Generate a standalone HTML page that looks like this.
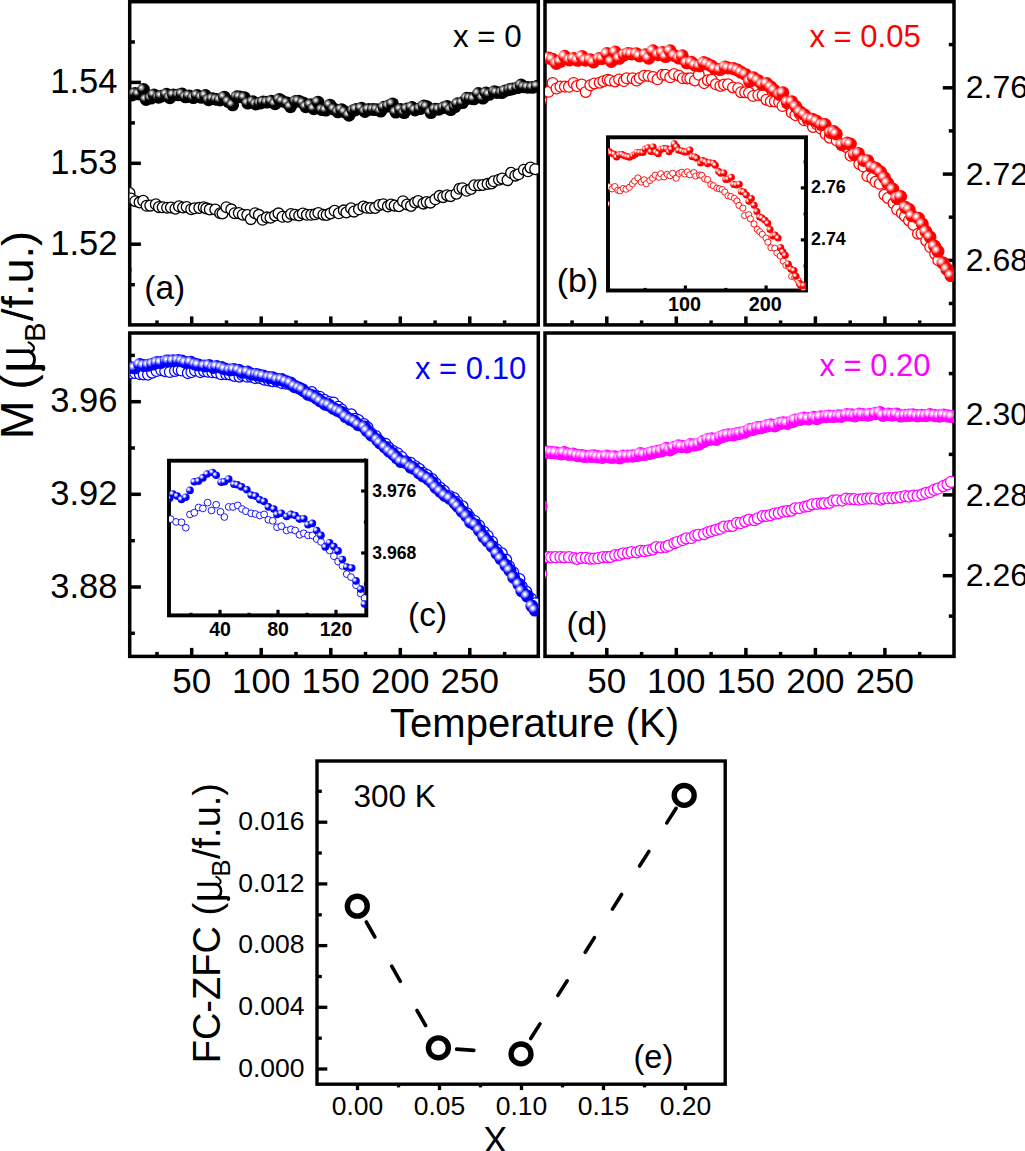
<!DOCTYPE html><html><head><meta charset="utf-8"><style>html,body{margin:0;padding:0;background:#fff;overflow:hidden}svg{display:block;font-family:"Liberation Sans",sans-serif}</style></head><body><svg width="1025" height="1151" viewBox="0 0 1025 1151" font-family="Liberation Sans, sans-serif"><defs><radialGradient id="gk" cx="0.31" cy="0.35" r="0.34" fx="0.31" fy="0.35"><stop offset="0" stop-color="#ffffff"/><stop offset="0.15" stop-color="#e8e8e8"/><stop offset="0.5" stop-color="#808080"/><stop offset="0.85" stop-color="#151515"/><stop offset="1" stop-color="#000000"/></radialGradient><radialGradient id="gr" cx="0.31" cy="0.35" r="0.36" fx="0.31" fy="0.35"><stop offset="0" stop-color="#ffffff"/><stop offset="0.18" stop-color="#ffffff"/><stop offset="0.55" stop-color="#ff9090"/><stop offset="1" stop-color="#ff0000"/></radialGradient><radialGradient id="gb" cx="0.31" cy="0.35" r="0.36" fx="0.31" fy="0.35"><stop offset="0" stop-color="#ffffff"/><stop offset="0.18" stop-color="#ffffff"/><stop offset="0.55" stop-color="#9090ff"/><stop offset="1" stop-color="#0000ff"/></radialGradient><radialGradient id="gm" cx="0.31" cy="0.35" r="0.36" fx="0.31" fy="0.35"><stop offset="0" stop-color="#ffffff"/><stop offset="0.18" stop-color="#ffffff"/><stop offset="0.55" stop-color="#ff90ff"/><stop offset="1" stop-color="#ff00ff"/></radialGradient><clipPath id="ca"><rect x="129.7" y="1.7" width="408.6" height="323.2"/></clipPath><clipPath id="cb"><rect x="545" y="1.7" width="409" height="323.2"/></clipPath><clipPath id="cc"><rect x="129.7" y="333" width="408.6" height="323.4"/></clipPath><clipPath id="cd"><rect x="545" y="333" width="409" height="323.4"/></clipPath><clipPath id="cib"><rect x="608" y="137.3" width="198" height="153.2"/></clipPath><clipPath id="cic"><rect x="169" y="460.7" width="197.3" height="154.7"/></clipPath></defs><rect width="1025" height="1151" fill="#fff"/><rect x="129.7" y="1.7" width="408.6" height="323.2" fill="none" stroke="#000" stroke-width="3.5"/>
<rect x="545" y="1.7" width="409" height="323.2" fill="none" stroke="#000" stroke-width="3.5"/>
<rect x="129.7" y="333" width="408.6" height="323.4" fill="none" stroke="#000" stroke-width="3.5"/>
<rect x="545" y="333" width="409" height="323.4" fill="none" stroke="#000" stroke-width="3.5"/>
<line x1="157" y1="324.9" x2="157" y2="320.4" stroke="#000" stroke-width="3.5" stroke-linecap="butt"/>
<line x1="191.7" y1="324.9" x2="191.7" y2="316.4" stroke="#000" stroke-width="3.5" stroke-linecap="butt"/>
<line x1="226.5" y1="324.9" x2="226.5" y2="320.4" stroke="#000" stroke-width="3.5" stroke-linecap="butt"/>
<line x1="261.2" y1="324.9" x2="261.2" y2="316.4" stroke="#000" stroke-width="3.5" stroke-linecap="butt"/>
<line x1="296" y1="324.9" x2="296" y2="320.4" stroke="#000" stroke-width="3.5" stroke-linecap="butt"/>
<line x1="330.8" y1="324.9" x2="330.8" y2="316.4" stroke="#000" stroke-width="3.5" stroke-linecap="butt"/>
<line x1="365.5" y1="324.9" x2="365.5" y2="320.4" stroke="#000" stroke-width="3.5" stroke-linecap="butt"/>
<line x1="400.3" y1="324.9" x2="400.3" y2="316.4" stroke="#000" stroke-width="3.5" stroke-linecap="butt"/>
<line x1="435.1" y1="324.9" x2="435.1" y2="320.4" stroke="#000" stroke-width="3.5" stroke-linecap="butt"/>
<line x1="469.8" y1="324.9" x2="469.8" y2="316.4" stroke="#000" stroke-width="3.5" stroke-linecap="butt"/>
<line x1="504.6" y1="324.9" x2="504.6" y2="320.4" stroke="#000" stroke-width="3.5" stroke-linecap="butt"/>
<line x1="157" y1="656.4" x2="157" y2="651.9" stroke="#000" stroke-width="3.5" stroke-linecap="butt"/>
<line x1="191.7" y1="656.4" x2="191.7" y2="647.9" stroke="#000" stroke-width="3.5" stroke-linecap="butt"/>
<line x1="226.5" y1="656.4" x2="226.5" y2="651.9" stroke="#000" stroke-width="3.5" stroke-linecap="butt"/>
<line x1="261.2" y1="656.4" x2="261.2" y2="647.9" stroke="#000" stroke-width="3.5" stroke-linecap="butt"/>
<line x1="296" y1="656.4" x2="296" y2="651.9" stroke="#000" stroke-width="3.5" stroke-linecap="butt"/>
<line x1="330.8" y1="656.4" x2="330.8" y2="647.9" stroke="#000" stroke-width="3.5" stroke-linecap="butt"/>
<line x1="365.5" y1="656.4" x2="365.5" y2="651.9" stroke="#000" stroke-width="3.5" stroke-linecap="butt"/>
<line x1="400.3" y1="656.4" x2="400.3" y2="647.9" stroke="#000" stroke-width="3.5" stroke-linecap="butt"/>
<line x1="435.1" y1="656.4" x2="435.1" y2="651.9" stroke="#000" stroke-width="3.5" stroke-linecap="butt"/>
<line x1="469.8" y1="656.4" x2="469.8" y2="647.9" stroke="#000" stroke-width="3.5" stroke-linecap="butt"/>
<line x1="504.6" y1="656.4" x2="504.6" y2="651.9" stroke="#000" stroke-width="3.5" stroke-linecap="butt"/>
<line x1="572.1" y1="324.9" x2="572.1" y2="320.4" stroke="#000" stroke-width="3.5" stroke-linecap="butt"/>
<line x1="606.8" y1="324.9" x2="606.8" y2="316.4" stroke="#000" stroke-width="3.5" stroke-linecap="butt"/>
<line x1="641.6" y1="324.9" x2="641.6" y2="320.4" stroke="#000" stroke-width="3.5" stroke-linecap="butt"/>
<line x1="676.3" y1="324.9" x2="676.3" y2="316.4" stroke="#000" stroke-width="3.5" stroke-linecap="butt"/>
<line x1="711.1" y1="324.9" x2="711.1" y2="320.4" stroke="#000" stroke-width="3.5" stroke-linecap="butt"/>
<line x1="745.9" y1="324.9" x2="745.9" y2="316.4" stroke="#000" stroke-width="3.5" stroke-linecap="butt"/>
<line x1="780.6" y1="324.9" x2="780.6" y2="320.4" stroke="#000" stroke-width="3.5" stroke-linecap="butt"/>
<line x1="815.4" y1="324.9" x2="815.4" y2="316.4" stroke="#000" stroke-width="3.5" stroke-linecap="butt"/>
<line x1="850.2" y1="324.9" x2="850.2" y2="320.4" stroke="#000" stroke-width="3.5" stroke-linecap="butt"/>
<line x1="884.9" y1="324.9" x2="884.9" y2="316.4" stroke="#000" stroke-width="3.5" stroke-linecap="butt"/>
<line x1="919.7" y1="324.9" x2="919.7" y2="320.4" stroke="#000" stroke-width="3.5" stroke-linecap="butt"/>
<line x1="572.1" y1="656.4" x2="572.1" y2="651.9" stroke="#000" stroke-width="3.5" stroke-linecap="butt"/>
<line x1="606.8" y1="656.4" x2="606.8" y2="647.9" stroke="#000" stroke-width="3.5" stroke-linecap="butt"/>
<line x1="641.6" y1="656.4" x2="641.6" y2="651.9" stroke="#000" stroke-width="3.5" stroke-linecap="butt"/>
<line x1="676.3" y1="656.4" x2="676.3" y2="647.9" stroke="#000" stroke-width="3.5" stroke-linecap="butt"/>
<line x1="711.1" y1="656.4" x2="711.1" y2="651.9" stroke="#000" stroke-width="3.5" stroke-linecap="butt"/>
<line x1="745.9" y1="656.4" x2="745.9" y2="647.9" stroke="#000" stroke-width="3.5" stroke-linecap="butt"/>
<line x1="780.6" y1="656.4" x2="780.6" y2="651.9" stroke="#000" stroke-width="3.5" stroke-linecap="butt"/>
<line x1="815.4" y1="656.4" x2="815.4" y2="647.9" stroke="#000" stroke-width="3.5" stroke-linecap="butt"/>
<line x1="850.2" y1="656.4" x2="850.2" y2="651.9" stroke="#000" stroke-width="3.5" stroke-linecap="butt"/>
<line x1="884.9" y1="656.4" x2="884.9" y2="647.9" stroke="#000" stroke-width="3.5" stroke-linecap="butt"/>
<line x1="919.7" y1="656.4" x2="919.7" y2="651.9" stroke="#000" stroke-width="3.5" stroke-linecap="butt"/>
<line x1="129.7" y1="42" x2="134.9" y2="42" stroke="#000" stroke-width="3.5" stroke-linecap="butt"/>
<line x1="129.7" y1="82.4" x2="140.9" y2="82.4" stroke="#000" stroke-width="3.5" stroke-linecap="butt"/>
<line x1="129.7" y1="122.9" x2="134.9" y2="122.9" stroke="#000" stroke-width="3.5" stroke-linecap="butt"/>
<line x1="129.7" y1="163.3" x2="140.9" y2="163.3" stroke="#000" stroke-width="3.5" stroke-linecap="butt"/>
<line x1="129.7" y1="203.8" x2="134.9" y2="203.8" stroke="#000" stroke-width="3.5" stroke-linecap="butt"/>
<line x1="129.7" y1="244.2" x2="140.9" y2="244.2" stroke="#000" stroke-width="3.5" stroke-linecap="butt"/>
<line x1="129.7" y1="284.7" x2="134.9" y2="284.7" stroke="#000" stroke-width="3.5" stroke-linecap="butt"/>
<line x1="954" y1="44.6" x2="948.8" y2="44.6" stroke="#000" stroke-width="3.5" stroke-linecap="butt"/>
<line x1="954" y1="87.8" x2="942.8" y2="87.8" stroke="#000" stroke-width="3.5" stroke-linecap="butt"/>
<line x1="954" y1="130.9" x2="948.8" y2="130.9" stroke="#000" stroke-width="3.5" stroke-linecap="butt"/>
<line x1="954" y1="174.1" x2="942.8" y2="174.1" stroke="#000" stroke-width="3.5" stroke-linecap="butt"/>
<line x1="954" y1="217.2" x2="948.8" y2="217.2" stroke="#000" stroke-width="3.5" stroke-linecap="butt"/>
<line x1="954" y1="260.4" x2="942.8" y2="260.4" stroke="#000" stroke-width="3.5" stroke-linecap="butt"/>
<line x1="954" y1="303.5" x2="948.8" y2="303.5" stroke="#000" stroke-width="3.5" stroke-linecap="butt"/>
<line x1="129.7" y1="355.4" x2="134.9" y2="355.4" stroke="#000" stroke-width="3.5" stroke-linecap="butt"/>
<line x1="129.7" y1="401.7" x2="140.9" y2="401.7" stroke="#000" stroke-width="3.5" stroke-linecap="butt"/>
<line x1="129.7" y1="448" x2="134.9" y2="448" stroke="#000" stroke-width="3.5" stroke-linecap="butt"/>
<line x1="129.7" y1="494.3" x2="140.9" y2="494.3" stroke="#000" stroke-width="3.5" stroke-linecap="butt"/>
<line x1="129.7" y1="540.7" x2="134.9" y2="540.7" stroke="#000" stroke-width="3.5" stroke-linecap="butt"/>
<line x1="129.7" y1="587" x2="140.9" y2="587" stroke="#000" stroke-width="3.5" stroke-linecap="butt"/>
<line x1="129.7" y1="633.3" x2="134.9" y2="633.3" stroke="#000" stroke-width="3.5" stroke-linecap="butt"/>
<line x1="954" y1="373.6" x2="948.8" y2="373.6" stroke="#000" stroke-width="3.5" stroke-linecap="butt"/>
<line x1="954" y1="414" x2="942.8" y2="414" stroke="#000" stroke-width="3.5" stroke-linecap="butt"/>
<line x1="954" y1="454.4" x2="948.8" y2="454.4" stroke="#000" stroke-width="3.5" stroke-linecap="butt"/>
<line x1="954" y1="494.9" x2="942.8" y2="494.9" stroke="#000" stroke-width="3.5" stroke-linecap="butt"/>
<line x1="954" y1="535.3" x2="948.8" y2="535.3" stroke="#000" stroke-width="3.5" stroke-linecap="butt"/>
<line x1="954" y1="575.7" x2="942.8" y2="575.7" stroke="#000" stroke-width="3.5" stroke-linecap="butt"/>
<line x1="954" y1="616.1" x2="948.8" y2="616.1" stroke="#000" stroke-width="3.5" stroke-linecap="butt"/>
<g clip-path="url(#ca)" fill="#fff" stroke="#000" stroke-width="1.3"><circle cx="129.5" cy="193" r="5.4"/><circle cx="130.9" cy="198.5" r="5.4"/><circle cx="135.3" cy="201.2" r="5.4"/><circle cx="139.6" cy="202.4" r="5.4"/><circle cx="143.2" cy="200.8" r="5.4"/><circle cx="146.6" cy="205.8" r="5.4"/><circle cx="150.3" cy="205.6" r="5.4"/><circle cx="155.8" cy="204.3" r="5.4"/><circle cx="158.9" cy="207.1" r="5.4"/><circle cx="162.7" cy="207.3" r="5.4"/><circle cx="167.1" cy="207.7" r="5.4"/><circle cx="170.9" cy="207.5" r="5.4"/><circle cx="175.4" cy="208.7" r="5.4"/><circle cx="179" cy="206.3" r="5.4"/><circle cx="183" cy="207.5" r="5.4"/><circle cx="186.7" cy="207" r="5.4"/><circle cx="191.2" cy="209.2" r="5.4"/><circle cx="194.5" cy="208.3" r="5.4"/><circle cx="199.3" cy="207.9" r="5.4"/><circle cx="203.7" cy="207.2" r="5.4"/><circle cx="206.3" cy="208.4" r="5.4"/><circle cx="209.8" cy="209.4" r="5.4"/><circle cx="215.3" cy="209.5" r="5.4"/><circle cx="220.2" cy="213.3" r="5.4"/><circle cx="222.5" cy="213.5" r="5.4"/><circle cx="226.4" cy="207.2" r="5.4"/><circle cx="231.3" cy="209.4" r="5.4"/><circle cx="234.6" cy="213.2" r="5.4"/><circle cx="238.8" cy="213.1" r="5.4"/><circle cx="242.8" cy="214.7" r="5.4"/><circle cx="247.3" cy="215.1" r="5.4"/><circle cx="250.8" cy="219.1" r="5.4"/><circle cx="255.1" cy="213.2" r="5.4"/><circle cx="258.9" cy="214.9" r="5.4"/><circle cx="262.6" cy="219.8" r="5.4"/><circle cx="266.8" cy="217.4" r="5.4"/><circle cx="270.5" cy="217.7" r="5.4"/><circle cx="275" cy="215.5" r="5.4"/><circle cx="278.5" cy="213.4" r="5.4"/><circle cx="282.5" cy="216.8" r="5.4"/><circle cx="287.7" cy="216.7" r="5.4"/><circle cx="291" cy="214" r="5.4"/><circle cx="295" cy="214.7" r="5.4"/><circle cx="299.2" cy="215.5" r="5.4"/><circle cx="302.8" cy="213.5" r="5.4"/><circle cx="306.9" cy="214.8" r="5.4"/><circle cx="311.2" cy="214.8" r="5.4"/><circle cx="315.1" cy="214.3" r="5.4"/><circle cx="318.4" cy="213" r="5.4"/><circle cx="323.4" cy="214.7" r="5.4"/><circle cx="326.7" cy="214.9" r="5.4"/><circle cx="330.5" cy="213.4" r="5.4"/><circle cx="334.6" cy="210.8" r="5.4"/><circle cx="338.8" cy="213.3" r="5.4"/><circle cx="343.8" cy="210.4" r="5.4"/><circle cx="346.4" cy="212.5" r="5.4"/><circle cx="351.1" cy="208.3" r="5.4"/><circle cx="354" cy="211.6" r="5.4"/><circle cx="359" cy="209.3" r="5.4"/><circle cx="363.4" cy="206.5" r="5.4"/><circle cx="366.9" cy="207.8" r="5.4"/><circle cx="370.7" cy="208" r="5.4"/><circle cx="375.1" cy="207.9" r="5.4"/><circle cx="379.3" cy="205.1" r="5.4"/><circle cx="383.3" cy="204.3" r="5.4"/><circle cx="387.9" cy="206.4" r="5.4"/><circle cx="391.1" cy="204.6" r="5.4"/><circle cx="394.7" cy="205.6" r="5.4"/><circle cx="398.9" cy="206.2" r="5.4"/><circle cx="403" cy="201.2" r="5.4"/><circle cx="407.1" cy="204.5" r="5.4"/><circle cx="411" cy="205.9" r="5.4"/><circle cx="415.1" cy="202.5" r="5.4"/><circle cx="418.2" cy="201.1" r="5.4"/><circle cx="423.4" cy="203.6" r="5.4"/><circle cx="426.7" cy="202.1" r="5.4"/><circle cx="430.4" cy="202.6" r="5.4"/><circle cx="435.3" cy="199.3" r="5.4"/><circle cx="439.6" cy="195.9" r="5.4"/><circle cx="443.2" cy="197.1" r="5.4"/><circle cx="447.1" cy="195.2" r="5.4"/><circle cx="450.6" cy="196.1" r="5.4"/><circle cx="456.4" cy="193.7" r="5.4"/><circle cx="459.4" cy="188.8" r="5.4"/><circle cx="462.5" cy="188.2" r="5.4"/><circle cx="466.6" cy="190.8" r="5.4"/><circle cx="471" cy="189" r="5.4"/><circle cx="474.3" cy="185.3" r="5.4"/><circle cx="479.1" cy="185.3" r="5.4"/><circle cx="482.8" cy="185" r="5.4"/><circle cx="487.6" cy="183.9" r="5.4"/><circle cx="491.5" cy="183.5" r="5.4"/><circle cx="493.7" cy="181.3" r="5.4"/><circle cx="499" cy="179.7" r="5.4"/><circle cx="502.2" cy="178.5" r="5.4"/><circle cx="507.5" cy="180.1" r="5.4"/><circle cx="511.1" cy="172.8" r="5.4"/><circle cx="515.3" cy="175.6" r="5.4"/><circle cx="518.5" cy="174.3" r="5.4"/><circle cx="523.9" cy="169.7" r="5.4"/><circle cx="528" cy="171.3" r="5.4"/><circle cx="530.5" cy="167.6" r="5.4"/><circle cx="535.2" cy="169.2" r="5.4"/></g>
<g clip-path="url(#ca)"><circle cx="125.2" cy="269.5" r="6.4" fill="url(#gk)"/><circle cx="132.2" cy="95" r="6.4" fill="url(#gk)"/><circle cx="135" cy="93.5" r="6.4" fill="url(#gk)"/><circle cx="138.6" cy="94" r="6.4" fill="url(#gk)"/><circle cx="143.6" cy="89.5" r="6.4" fill="url(#gk)"/><circle cx="146.1" cy="99.5" r="6.4" fill="url(#gk)"/><circle cx="151" cy="98.1" r="6.4" fill="url(#gk)"/><circle cx="154" cy="94.8" r="6.4" fill="url(#gk)"/><circle cx="158.5" cy="97.3" r="6.4" fill="url(#gk)"/><circle cx="161.3" cy="96.1" r="6.4" fill="url(#gk)"/><circle cx="166.5" cy="94.2" r="6.4" fill="url(#gk)"/><circle cx="169.9" cy="97.8" r="6.4" fill="url(#gk)"/><circle cx="173.4" cy="94.9" r="6.4" fill="url(#gk)"/><circle cx="178.6" cy="94.9" r="6.4" fill="url(#gk)"/><circle cx="182.1" cy="94" r="6.4" fill="url(#gk)"/><circle cx="185.6" cy="96.9" r="6.4" fill="url(#gk)"/><circle cx="189.2" cy="95.8" r="6.4" fill="url(#gk)"/><circle cx="193.4" cy="97.6" r="6.4" fill="url(#gk)"/><circle cx="197.2" cy="95.3" r="6.4" fill="url(#gk)"/><circle cx="201.5" cy="97.4" r="6.4" fill="url(#gk)"/><circle cx="205.5" cy="95.5" r="6.4" fill="url(#gk)"/><circle cx="208.7" cy="99.8" r="6.4" fill="url(#gk)"/><circle cx="212.6" cy="98.7" r="6.4" fill="url(#gk)"/><circle cx="216.6" cy="99.4" r="6.4" fill="url(#gk)"/><circle cx="220.1" cy="100" r="6.4" fill="url(#gk)"/><circle cx="224.3" cy="97.1" r="6.4" fill="url(#gk)"/><circle cx="228.5" cy="101.6" r="6.4" fill="url(#gk)"/><circle cx="232.7" cy="104.9" r="6.4" fill="url(#gk)"/><circle cx="236.9" cy="96.7" r="6.4" fill="url(#gk)"/><circle cx="239.8" cy="96.8" r="6.4" fill="url(#gk)"/><circle cx="244.4" cy="97.6" r="6.4" fill="url(#gk)"/><circle cx="247.8" cy="103.2" r="6.4" fill="url(#gk)"/><circle cx="252.9" cy="101.7" r="6.4" fill="url(#gk)"/><circle cx="255.8" cy="104" r="6.4" fill="url(#gk)"/><circle cx="259.9" cy="103.2" r="6.4" fill="url(#gk)"/><circle cx="263.2" cy="102" r="6.4" fill="url(#gk)"/><circle cx="267.1" cy="102.2" r="6.4" fill="url(#gk)"/><circle cx="271.5" cy="101.2" r="6.4" fill="url(#gk)"/><circle cx="275.1" cy="103.8" r="6.4" fill="url(#gk)"/><circle cx="279.4" cy="99.4" r="6.4" fill="url(#gk)"/><circle cx="282.4" cy="101.2" r="6.4" fill="url(#gk)"/><circle cx="287.3" cy="102.9" r="6.4" fill="url(#gk)"/><circle cx="290.5" cy="106.8" r="6.4" fill="url(#gk)"/><circle cx="295.6" cy="101.3" r="6.4" fill="url(#gk)"/><circle cx="298.6" cy="101.1" r="6.4" fill="url(#gk)"/><circle cx="303.1" cy="102.8" r="6.4" fill="url(#gk)"/><circle cx="305.8" cy="106.8" r="6.4" fill="url(#gk)"/><circle cx="310.6" cy="104.6" r="6.4" fill="url(#gk)"/><circle cx="313.9" cy="108.8" r="6.4" fill="url(#gk)"/><circle cx="318" cy="102.1" r="6.4" fill="url(#gk)"/><circle cx="322.1" cy="109.7" r="6.4" fill="url(#gk)"/><circle cx="325.9" cy="110.2" r="6.4" fill="url(#gk)"/><circle cx="330" cy="105.1" r="6.4" fill="url(#gk)"/><circle cx="334.1" cy="109.1" r="6.4" fill="url(#gk)"/><circle cx="338" cy="111.9" r="6.4" fill="url(#gk)"/><circle cx="341.6" cy="109.6" r="6.4" fill="url(#gk)"/><circle cx="344.9" cy="112" r="6.4" fill="url(#gk)"/><circle cx="349" cy="115.3" r="6.4" fill="url(#gk)"/><circle cx="353.2" cy="110.6" r="6.4" fill="url(#gk)"/><circle cx="356.2" cy="109.4" r="6.4" fill="url(#gk)"/><circle cx="361.5" cy="108.2" r="6.4" fill="url(#gk)"/><circle cx="364.9" cy="111.5" r="6.4" fill="url(#gk)"/><circle cx="368.8" cy="109.5" r="6.4" fill="url(#gk)"/><circle cx="373.2" cy="109.5" r="6.4" fill="url(#gk)"/><circle cx="377" cy="109.6" r="6.4" fill="url(#gk)"/><circle cx="380.7" cy="111.2" r="6.4" fill="url(#gk)"/><circle cx="384" cy="107.2" r="6.4" fill="url(#gk)"/><circle cx="388.5" cy="106" r="6.4" fill="url(#gk)"/><circle cx="392.5" cy="103.8" r="6.4" fill="url(#gk)"/><circle cx="395.8" cy="112.1" r="6.4" fill="url(#gk)"/><circle cx="400.6" cy="109.4" r="6.4" fill="url(#gk)"/><circle cx="404.2" cy="112.6" r="6.4" fill="url(#gk)"/><circle cx="407" cy="109" r="6.4" fill="url(#gk)"/><circle cx="411.9" cy="107.3" r="6.4" fill="url(#gk)"/><circle cx="415.1" cy="110" r="6.4" fill="url(#gk)"/><circle cx="420.1" cy="108.6" r="6.4" fill="url(#gk)"/><circle cx="423.9" cy="105.8" r="6.4" fill="url(#gk)"/><circle cx="426.9" cy="106.6" r="6.4" fill="url(#gk)"/><circle cx="430.9" cy="112.6" r="6.4" fill="url(#gk)"/><circle cx="435.2" cy="109.2" r="6.4" fill="url(#gk)"/><circle cx="439" cy="109.3" r="6.4" fill="url(#gk)"/><circle cx="443.7" cy="107.6" r="6.4" fill="url(#gk)"/><circle cx="447.2" cy="106.5" r="6.4" fill="url(#gk)"/><circle cx="450.7" cy="109.7" r="6.4" fill="url(#gk)"/><circle cx="455" cy="106.8" r="6.4" fill="url(#gk)"/><circle cx="457.6" cy="103.6" r="6.4" fill="url(#gk)"/><circle cx="462.6" cy="102.7" r="6.4" fill="url(#gk)"/><circle cx="466.8" cy="98.2" r="6.4" fill="url(#gk)"/><circle cx="470.2" cy="98.3" r="6.4" fill="url(#gk)"/><circle cx="473.9" cy="98.9" r="6.4" fill="url(#gk)"/><circle cx="478.4" cy="93.5" r="6.4" fill="url(#gk)"/><circle cx="482.9" cy="98.2" r="6.4" fill="url(#gk)"/><circle cx="486" cy="92.9" r="6.4" fill="url(#gk)"/><circle cx="489.3" cy="94.4" r="6.4" fill="url(#gk)"/><circle cx="494.4" cy="91.6" r="6.4" fill="url(#gk)"/><circle cx="496.7" cy="92.5" r="6.4" fill="url(#gk)"/><circle cx="501.7" cy="92.6" r="6.4" fill="url(#gk)"/><circle cx="505.1" cy="90.8" r="6.4" fill="url(#gk)"/><circle cx="509.7" cy="89.5" r="6.4" fill="url(#gk)"/><circle cx="512.8" cy="88.8" r="6.4" fill="url(#gk)"/><circle cx="517.7" cy="87.7" r="6.4" fill="url(#gk)"/><circle cx="521.1" cy="85" r="6.4" fill="url(#gk)"/><circle cx="524.1" cy="86.9" r="6.4" fill="url(#gk)"/><circle cx="527.9" cy="87.3" r="6.4" fill="url(#gk)"/><circle cx="532.6" cy="87.4" r="6.4" fill="url(#gk)"/><circle cx="537.2" cy="86.2" r="6.4" fill="url(#gk)"/></g>
<g clip-path="url(#cb)" fill="#fff" stroke="#ff0000" stroke-width="1.25"><circle cx="541" cy="100" r="5.4"/><circle cx="548.6" cy="91.8" r="5.4"/><circle cx="552.6" cy="83" r="5.4"/><circle cx="556.5" cy="88.5" r="5.4"/><circle cx="560.4" cy="86.6" r="5.4"/><circle cx="564.9" cy="86.6" r="5.4"/><circle cx="568.9" cy="86.8" r="5.4"/><circle cx="573.6" cy="83" r="5.4"/><circle cx="577" cy="86.1" r="5.4"/><circle cx="581.7" cy="84.5" r="5.4"/><circle cx="585.7" cy="91.9" r="5.4"/><circle cx="590.3" cy="85.3" r="5.4"/><circle cx="594.3" cy="83.4" r="5.4"/><circle cx="599.7" cy="82.7" r="5.4"/><circle cx="603.4" cy="81.2" r="5.4"/><circle cx="607.6" cy="79.8" r="5.4"/><circle cx="610" cy="80.4" r="5.4"/><circle cx="615" cy="81.4" r="5.4"/><circle cx="619.1" cy="79.4" r="5.4"/><circle cx="623.9" cy="81.1" r="5.4"/><circle cx="626.7" cy="78.3" r="5.4"/><circle cx="632.6" cy="78.2" r="5.4"/><circle cx="636.7" cy="80.5" r="5.4"/><circle cx="639.7" cy="78.1" r="5.4"/><circle cx="644.1" cy="75.7" r="5.4"/><circle cx="648.4" cy="75.9" r="5.4"/><circle cx="653" cy="77" r="5.4"/><circle cx="657.5" cy="79.3" r="5.4"/><circle cx="662.4" cy="74.8" r="5.4"/><circle cx="665.5" cy="74.8" r="5.4"/><circle cx="670.2" cy="77.3" r="5.4"/><circle cx="674.1" cy="74.1" r="5.4"/><circle cx="679.1" cy="75.7" r="5.4"/><circle cx="682.8" cy="78.3" r="5.4"/><circle cx="687.3" cy="78.4" r="5.4"/><circle cx="690.3" cy="78.3" r="5.4"/><circle cx="694.9" cy="80.4" r="5.4"/><circle cx="698.8" cy="74.8" r="5.4"/><circle cx="704.2" cy="83.1" r="5.4"/><circle cx="707.9" cy="80.2" r="5.4"/><circle cx="711.6" cy="79.8" r="5.4"/><circle cx="715.8" cy="84.3" r="5.4"/><circle cx="720.4" cy="85.9" r="5.4"/><circle cx="724" cy="84.6" r="5.4"/><circle cx="728.1" cy="84.3" r="5.4"/><circle cx="733" cy="87.4" r="5.4"/><circle cx="738.2" cy="88.2" r="5.4"/><circle cx="741.1" cy="92.2" r="5.4"/><circle cx="745.1" cy="92.3" r="5.4"/><circle cx="749" cy="92.8" r="5.4"/><circle cx="753.1" cy="96" r="5.4"/><circle cx="758.3" cy="95" r="5.4"/><circle cx="762.6" cy="95.2" r="5.4"/><circle cx="766.4" cy="99.7" r="5.4"/><circle cx="770.8" cy="101.3" r="5.4"/><circle cx="774.9" cy="101.4" r="5.4"/><circle cx="779.1" cy="102" r="5.4"/><circle cx="782.4" cy="106" r="5.4"/><circle cx="787.2" cy="103.4" r="5.4"/><circle cx="791.7" cy="112.5" r="5.4"/><circle cx="795.4" cy="115.1" r="5.4"/><circle cx="799.8" cy="114" r="5.4"/><circle cx="803.8" cy="120.1" r="5.4"/><circle cx="808.2" cy="121" r="5.4"/><circle cx="813" cy="126.9" r="5.4"/><circle cx="816.6" cy="124" r="5.4"/><circle cx="820.9" cy="128.5" r="5.4"/><circle cx="825.6" cy="134.1" r="5.4"/><circle cx="829.7" cy="137.7" r="5.4"/><circle cx="834.5" cy="134.3" r="5.4"/><circle cx="836.7" cy="140.5" r="5.4"/><circle cx="842.4" cy="145.1" r="5.4"/><circle cx="846" cy="146.9" r="5.4"/><circle cx="850.5" cy="155.6" r="5.4"/><circle cx="855" cy="155.6" r="5.4"/><circle cx="859.3" cy="163.9" r="5.4"/><circle cx="863.5" cy="166.5" r="5.4"/><circle cx="867.3" cy="176.1" r="5.4"/><circle cx="872.2" cy="178" r="5.4"/><circle cx="875.5" cy="181.8" r="5.4"/><circle cx="879.7" cy="183.8" r="5.4"/><circle cx="884.4" cy="194.8" r="5.4"/><circle cx="887.9" cy="197.9" r="5.4"/><circle cx="893.5" cy="203.3" r="5.4"/><circle cx="897.1" cy="209.6" r="5.4"/><circle cx="901.9" cy="213.3" r="5.4"/><circle cx="905" cy="216.2" r="5.4"/><circle cx="909" cy="220.4" r="5.4"/><circle cx="913.5" cy="224.9" r="5.4"/><circle cx="918" cy="233.7" r="5.4"/><circle cx="921.5" cy="233.5" r="5.4"/><circle cx="926.2" cy="240.7" r="5.4"/><circle cx="930.2" cy="247.1" r="5.4"/><circle cx="935.2" cy="253.9" r="5.4"/><circle cx="938.3" cy="260.3" r="5.4"/><circle cx="943.3" cy="262.5" r="5.4"/><circle cx="946.7" cy="268" r="5.4"/><circle cx="950.7" cy="275.9" r="5.4"/></g>
<g clip-path="url(#cb)"><circle cx="548.6" cy="58.1" r="6.5" fill="url(#gr)"/><circle cx="552.5" cy="59.2" r="6.5" fill="url(#gr)"/><circle cx="556.4" cy="63.4" r="6.5" fill="url(#gr)"/><circle cx="560.6" cy="61.3" r="6.5" fill="url(#gr)"/><circle cx="564.7" cy="56.3" r="6.5" fill="url(#gr)"/><circle cx="569.5" cy="60" r="6.5" fill="url(#gr)"/><circle cx="573.6" cy="58.6" r="6.5" fill="url(#gr)"/><circle cx="577.6" cy="60.3" r="6.5" fill="url(#gr)"/><circle cx="582" cy="56.4" r="6.5" fill="url(#gr)"/><circle cx="585.5" cy="60.2" r="6.5" fill="url(#gr)"/><circle cx="590.3" cy="59.7" r="6.5" fill="url(#gr)"/><circle cx="593.5" cy="62" r="6.5" fill="url(#gr)"/><circle cx="599.1" cy="58.6" r="6.5" fill="url(#gr)"/><circle cx="602.6" cy="58.5" r="6.5" fill="url(#gr)"/><circle cx="606.9" cy="53.6" r="6.5" fill="url(#gr)"/><circle cx="611.3" cy="61.5" r="6.5" fill="url(#gr)"/><circle cx="615.2" cy="52" r="6.5" fill="url(#gr)"/><circle cx="619.3" cy="58.3" r="6.5" fill="url(#gr)"/><circle cx="624.2" cy="54.9" r="6.5" fill="url(#gr)"/><circle cx="627.9" cy="53.5" r="6.5" fill="url(#gr)"/><circle cx="631.5" cy="53.9" r="6.5" fill="url(#gr)"/><circle cx="636.4" cy="53.7" r="6.5" fill="url(#gr)"/><circle cx="639.5" cy="56" r="6.5" fill="url(#gr)"/><circle cx="645.4" cy="54.8" r="6.5" fill="url(#gr)"/><circle cx="648.7" cy="58.2" r="6.5" fill="url(#gr)"/><circle cx="653" cy="50.8" r="6.5" fill="url(#gr)"/><circle cx="658.3" cy="54.7" r="6.5" fill="url(#gr)"/><circle cx="662.5" cy="52.6" r="6.5" fill="url(#gr)"/><circle cx="665.7" cy="56.6" r="6.5" fill="url(#gr)"/><circle cx="670.1" cy="50.8" r="6.5" fill="url(#gr)"/><circle cx="674.5" cy="55.7" r="6.5" fill="url(#gr)"/><circle cx="679" cy="58.1" r="6.5" fill="url(#gr)"/><circle cx="682.3" cy="55.8" r="6.5" fill="url(#gr)"/><circle cx="686.7" cy="62.8" r="6.5" fill="url(#gr)"/><circle cx="691.4" cy="62.3" r="6.5" fill="url(#gr)"/><circle cx="695.1" cy="65.2" r="6.5" fill="url(#gr)"/><circle cx="699.6" cy="66" r="6.5" fill="url(#gr)"/><circle cx="703.7" cy="62.6" r="6.5" fill="url(#gr)"/><circle cx="707" cy="63.8" r="6.5" fill="url(#gr)"/><circle cx="711.4" cy="65.9" r="6.5" fill="url(#gr)"/><circle cx="714.7" cy="68.6" r="6.5" fill="url(#gr)"/><circle cx="720.1" cy="69.6" r="6.5" fill="url(#gr)"/><circle cx="725.1" cy="66.9" r="6.5" fill="url(#gr)"/><circle cx="728" cy="68" r="6.5" fill="url(#gr)"/><circle cx="733.4" cy="68.6" r="6.5" fill="url(#gr)"/><circle cx="737.5" cy="70.1" r="6.5" fill="url(#gr)"/><circle cx="741.2" cy="72.3" r="6.5" fill="url(#gr)"/><circle cx="745.4" cy="74.4" r="6.5" fill="url(#gr)"/><circle cx="749.6" cy="81.3" r="6.5" fill="url(#gr)"/><circle cx="753.4" cy="77.8" r="6.5" fill="url(#gr)"/><circle cx="757.9" cy="80.4" r="6.5" fill="url(#gr)"/><circle cx="762.2" cy="84.3" r="6.5" fill="url(#gr)"/><circle cx="766.7" cy="83.5" r="6.5" fill="url(#gr)"/><circle cx="771" cy="87.1" r="6.5" fill="url(#gr)"/><circle cx="774.4" cy="90.4" r="6.5" fill="url(#gr)"/><circle cx="779.4" cy="94.5" r="6.5" fill="url(#gr)"/><circle cx="782.8" cy="92.7" r="6.5" fill="url(#gr)"/><circle cx="787.3" cy="101.9" r="6.5" fill="url(#gr)"/><circle cx="791.8" cy="101.8" r="6.5" fill="url(#gr)"/><circle cx="795.8" cy="106.6" r="6.5" fill="url(#gr)"/><circle cx="799.9" cy="111.8" r="6.5" fill="url(#gr)"/><circle cx="804.3" cy="114.7" r="6.5" fill="url(#gr)"/><circle cx="808.1" cy="118.5" r="6.5" fill="url(#gr)"/><circle cx="812.3" cy="119.2" r="6.5" fill="url(#gr)"/><circle cx="816.7" cy="121.3" r="6.5" fill="url(#gr)"/><circle cx="821.5" cy="124.6" r="6.5" fill="url(#gr)"/><circle cx="825.1" cy="124.6" r="6.5" fill="url(#gr)"/><circle cx="830.4" cy="132.5" r="6.5" fill="url(#gr)"/><circle cx="833.7" cy="131.5" r="6.5" fill="url(#gr)"/><circle cx="836.3" cy="133.9" r="6.5" fill="url(#gr)"/><circle cx="841.8" cy="144.6" r="6.5" fill="url(#gr)"/><circle cx="847" cy="143.1" r="6.5" fill="url(#gr)"/><circle cx="850.4" cy="144.1" r="6.5" fill="url(#gr)"/><circle cx="854.4" cy="154.4" r="6.5" fill="url(#gr)"/><circle cx="858.4" cy="153.4" r="6.5" fill="url(#gr)"/><circle cx="863.7" cy="160.5" r="6.5" fill="url(#gr)"/><circle cx="867.7" cy="160.7" r="6.5" fill="url(#gr)"/><circle cx="871.7" cy="166.6" r="6.5" fill="url(#gr)"/><circle cx="875.8" cy="168.2" r="6.5" fill="url(#gr)"/><circle cx="880.5" cy="172" r="6.5" fill="url(#gr)"/><circle cx="884.4" cy="177.7" r="6.5" fill="url(#gr)"/><circle cx="887.6" cy="183.1" r="6.5" fill="url(#gr)"/><circle cx="892.8" cy="189.1" r="6.5" fill="url(#gr)"/><circle cx="896.7" cy="197.9" r="6.5" fill="url(#gr)"/><circle cx="900.7" cy="196.5" r="6.5" fill="url(#gr)"/><circle cx="905.4" cy="207.3" r="6.5" fill="url(#gr)"/><circle cx="909.2" cy="209.5" r="6.5" fill="url(#gr)"/><circle cx="911.9" cy="215.8" r="6.5" fill="url(#gr)"/><circle cx="918.4" cy="218.2" r="6.5" fill="url(#gr)"/><circle cx="922.3" cy="223.9" r="6.5" fill="url(#gr)"/><circle cx="925.9" cy="231.5" r="6.5" fill="url(#gr)"/><circle cx="930" cy="236.9" r="6.5" fill="url(#gr)"/><circle cx="934.5" cy="246.1" r="6.5" fill="url(#gr)"/><circle cx="938" cy="251.3" r="6.5" fill="url(#gr)"/><circle cx="943" cy="263.2" r="6.5" fill="url(#gr)"/><circle cx="946.9" cy="269.3" r="6.5" fill="url(#gr)"/><circle cx="951" cy="275.5" r="6.5" fill="url(#gr)"/></g>
<g clip-path="url(#cc)" fill="#fff" stroke="#0000ff" stroke-width="1.25"><circle cx="130.9" cy="373.3" r="5.4"/><circle cx="135.1" cy="373" r="5.4"/><circle cx="139.7" cy="374.1" r="5.4"/><circle cx="143.7" cy="374.5" r="5.4"/><circle cx="148" cy="374.6" r="5.4"/><circle cx="152.1" cy="372.7" r="5.4"/><circle cx="156.5" cy="371" r="5.4"/><circle cx="161.2" cy="370.1" r="5.4"/><circle cx="165.2" cy="371.2" r="5.4"/><circle cx="169.8" cy="372" r="5.4"/><circle cx="175" cy="371" r="5.4"/><circle cx="178.5" cy="369.9" r="5.4"/><circle cx="181.8" cy="370.5" r="5.4"/><circle cx="187.8" cy="373.1" r="5.4"/><circle cx="191.4" cy="372.1" r="5.4"/><circle cx="195" cy="370.5" r="5.4"/><circle cx="200.3" cy="372.1" r="5.4"/><circle cx="204.1" cy="371.2" r="5.4"/><circle cx="208.1" cy="371.8" r="5.4"/><circle cx="212.4" cy="372.3" r="5.4"/><circle cx="216.5" cy="372.6" r="5.4"/><circle cx="221.3" cy="374.3" r="5.4"/><circle cx="226.2" cy="374.3" r="5.4"/><circle cx="229.7" cy="374.4" r="5.4"/><circle cx="234.4" cy="375.9" r="5.4"/><circle cx="239.5" cy="376.7" r="5.4"/><circle cx="242.2" cy="375" r="5.4"/><circle cx="247.2" cy="376.8" r="5.4"/><circle cx="251.2" cy="376.7" r="5.4"/><circle cx="255.2" cy="378.1" r="5.4"/><circle cx="259.5" cy="377.9" r="5.4"/><circle cx="264.3" cy="379.7" r="5.4"/><circle cx="268.8" cy="380.5" r="5.4"/><circle cx="272.6" cy="381.2" r="5.4"/><circle cx="277.2" cy="381.5" r="5.4"/><circle cx="281.9" cy="383.1" r="5.4"/><circle cx="286" cy="383.6" r="5.4"/><circle cx="290.5" cy="384.6" r="5.4"/><circle cx="294.6" cy="387.3" r="5.4"/><circle cx="299" cy="387.7" r="5.4"/><circle cx="303.9" cy="391.4" r="5.4"/><circle cx="307.6" cy="392.7" r="5.4"/><circle cx="311.7" cy="392.1" r="5.4"/><circle cx="316.3" cy="396" r="5.4"/><circle cx="319.7" cy="396.7" r="5.4"/><circle cx="324.3" cy="399.8" r="5.4"/><circle cx="329.2" cy="401.9" r="5.4"/><circle cx="333.4" cy="402.5" r="5.4"/><circle cx="338.2" cy="406.7" r="5.4"/><circle cx="341.7" cy="409.5" r="5.4"/><circle cx="345.2" cy="413.4" r="5.4"/><circle cx="351.3" cy="414.3" r="5.4"/><circle cx="355.2" cy="418.8" r="5.4"/><circle cx="358.4" cy="420.1" r="5.4"/><circle cx="363.9" cy="424.1" r="5.4"/><circle cx="367.5" cy="427.3" r="5.4"/><circle cx="370.9" cy="433" r="5.4"/><circle cx="375.9" cy="436" r="5.4"/><circle cx="380.1" cy="441.5" r="5.4"/><circle cx="385.5" cy="443.7" r="5.4"/><circle cx="388.6" cy="447.6" r="5.4"/><circle cx="393.2" cy="451.1" r="5.4"/><circle cx="397.5" cy="453.2" r="5.4"/><circle cx="401.7" cy="456.9" r="5.4"/><circle cx="405.7" cy="461.3" r="5.4"/><circle cx="410.6" cy="462.7" r="5.4"/><circle cx="415.4" cy="466.3" r="5.4"/><circle cx="419.4" cy="469.1" r="5.4"/><circle cx="422.9" cy="472.7" r="5.4"/><circle cx="427.1" cy="475.1" r="5.4"/><circle cx="432.1" cy="479.1" r="5.4"/><circle cx="435.9" cy="483.6" r="5.4"/><circle cx="440.3" cy="487.7" r="5.4"/><circle cx="444" cy="490.8" r="5.4"/><circle cx="450.2" cy="496.2" r="5.4"/><circle cx="454" cy="497.9" r="5.4"/><circle cx="457.3" cy="501.9" r="5.4"/><circle cx="462.6" cy="506.3" r="5.4"/><circle cx="467.1" cy="513.2" r="5.4"/><circle cx="469.5" cy="516.8" r="5.4"/><circle cx="474.7" cy="520.9" r="5.4"/><circle cx="479.1" cy="525.4" r="5.4"/><circle cx="483.9" cy="531.8" r="5.4"/><circle cx="487.8" cy="536" r="5.4"/><circle cx="492.1" cy="541.7" r="5.4"/><circle cx="496.5" cy="549.2" r="5.4"/><circle cx="501.8" cy="553.3" r="5.4"/><circle cx="506.2" cy="559.8" r="5.4"/><circle cx="509.1" cy="566.2" r="5.4"/><circle cx="513.2" cy="572.2" r="5.4"/><circle cx="519.4" cy="579" r="5.4"/><circle cx="521.8" cy="586.6" r="5.4"/><circle cx="526.3" cy="591.6" r="5.4"/><circle cx="530.9" cy="598.4" r="5.4"/><circle cx="535.4" cy="603.2" r="5.4"/></g>
<g clip-path="url(#cc)"><circle cx="130.2" cy="367.6" r="6.5" fill="url(#gb)"/><circle cx="134.8" cy="367.9" r="6.5" fill="url(#gb)"/><circle cx="139.7" cy="364.6" r="6.5" fill="url(#gb)"/><circle cx="143.7" cy="365.6" r="6.5" fill="url(#gb)"/><circle cx="148.4" cy="365.2" r="6.5" fill="url(#gb)"/><circle cx="152.8" cy="364.1" r="6.5" fill="url(#gb)"/><circle cx="157" cy="362.6" r="6.5" fill="url(#gb)"/><circle cx="161" cy="362.5" r="6.5" fill="url(#gb)"/><circle cx="166.3" cy="361" r="6.5" fill="url(#gb)"/><circle cx="168.6" cy="361" r="6.5" fill="url(#gb)"/><circle cx="173.1" cy="360.8" r="6.5" fill="url(#gb)"/><circle cx="178" cy="360.4" r="6.5" fill="url(#gb)"/><circle cx="182" cy="361" r="6.5" fill="url(#gb)"/><circle cx="185.6" cy="362.4" r="6.5" fill="url(#gb)"/><circle cx="190.8" cy="362.3" r="6.5" fill="url(#gb)"/><circle cx="195.1" cy="364.2" r="6.5" fill="url(#gb)"/><circle cx="198.5" cy="364.9" r="6.5" fill="url(#gb)"/><circle cx="204.5" cy="366" r="6.5" fill="url(#gb)"/><circle cx="209.1" cy="365.5" r="6.5" fill="url(#gb)"/><circle cx="213.3" cy="367.4" r="6.5" fill="url(#gb)"/><circle cx="216.7" cy="366.6" r="6.5" fill="url(#gb)"/><circle cx="221.4" cy="367.5" r="6.5" fill="url(#gb)"/><circle cx="225" cy="369" r="6.5" fill="url(#gb)"/><circle cx="230" cy="370" r="6.5" fill="url(#gb)"/><circle cx="233.9" cy="369.5" r="6.5" fill="url(#gb)"/><circle cx="238.7" cy="370.2" r="6.5" fill="url(#gb)"/><circle cx="242.6" cy="372.3" r="6.5" fill="url(#gb)"/><circle cx="247.6" cy="372.1" r="6.5" fill="url(#gb)"/><circle cx="251.8" cy="374.2" r="6.5" fill="url(#gb)"/><circle cx="256.3" cy="374.4" r="6.5" fill="url(#gb)"/><circle cx="259.2" cy="375.2" r="6.5" fill="url(#gb)"/><circle cx="263.4" cy="376" r="6.5" fill="url(#gb)"/><circle cx="268.8" cy="377.4" r="6.5" fill="url(#gb)"/><circle cx="272.6" cy="377.7" r="6.5" fill="url(#gb)"/><circle cx="277.4" cy="379.6" r="6.5" fill="url(#gb)"/><circle cx="281.7" cy="379.6" r="6.5" fill="url(#gb)"/><circle cx="285.9" cy="381.4" r="6.5" fill="url(#gb)"/><circle cx="290.6" cy="383" r="6.5" fill="url(#gb)"/><circle cx="294.7" cy="386.2" r="6.5" fill="url(#gb)"/><circle cx="298.9" cy="388" r="6.5" fill="url(#gb)"/><circle cx="302.5" cy="389.7" r="6.5" fill="url(#gb)"/><circle cx="308.2" cy="394.3" r="6.5" fill="url(#gb)"/><circle cx="311.7" cy="395.4" r="6.5" fill="url(#gb)"/><circle cx="316.5" cy="398.2" r="6.5" fill="url(#gb)"/><circle cx="320.4" cy="401" r="6.5" fill="url(#gb)"/><circle cx="325.2" cy="404.2" r="6.5" fill="url(#gb)"/><circle cx="328.9" cy="405.1" r="6.5" fill="url(#gb)"/><circle cx="333.2" cy="408.2" r="6.5" fill="url(#gb)"/><circle cx="337.5" cy="410.5" r="6.5" fill="url(#gb)"/><circle cx="341.3" cy="412.2" r="6.5" fill="url(#gb)"/><circle cx="345.7" cy="416.6" r="6.5" fill="url(#gb)"/><circle cx="350.2" cy="419.5" r="6.5" fill="url(#gb)"/><circle cx="354.5" cy="421.5" r="6.5" fill="url(#gb)"/><circle cx="358.4" cy="424.7" r="6.5" fill="url(#gb)"/><circle cx="364.4" cy="427.1" r="6.5" fill="url(#gb)"/><circle cx="367" cy="430.7" r="6.5" fill="url(#gb)"/><circle cx="371.6" cy="435.2" r="6.5" fill="url(#gb)"/><circle cx="377.4" cy="439.8" r="6.5" fill="url(#gb)"/><circle cx="380.1" cy="442.9" r="6.5" fill="url(#gb)"/><circle cx="385.1" cy="447.2" r="6.5" fill="url(#gb)"/><circle cx="389.3" cy="451.2" r="6.5" fill="url(#gb)"/><circle cx="393.2" cy="454.1" r="6.5" fill="url(#gb)"/><circle cx="396.9" cy="457.8" r="6.5" fill="url(#gb)"/><circle cx="401.1" cy="461.6" r="6.5" fill="url(#gb)"/><circle cx="406.2" cy="462.7" r="6.5" fill="url(#gb)"/><circle cx="410.7" cy="467.1" r="6.5" fill="url(#gb)"/><circle cx="413.7" cy="468.3" r="6.5" fill="url(#gb)"/><circle cx="419.2" cy="472.9" r="6.5" fill="url(#gb)"/><circle cx="423.1" cy="475.9" r="6.5" fill="url(#gb)"/><circle cx="428.2" cy="478.8" r="6.5" fill="url(#gb)"/><circle cx="432.1" cy="482.4" r="6.5" fill="url(#gb)"/><circle cx="435.9" cy="487.4" r="6.5" fill="url(#gb)"/><circle cx="440.4" cy="491.3" r="6.5" fill="url(#gb)"/><circle cx="444.9" cy="495.5" r="6.5" fill="url(#gb)"/><circle cx="449.9" cy="498.5" r="6.5" fill="url(#gb)"/><circle cx="455.1" cy="503.2" r="6.5" fill="url(#gb)"/><circle cx="458" cy="506.3" r="6.5" fill="url(#gb)"/><circle cx="462.2" cy="511.4" r="6.5" fill="url(#gb)"/><circle cx="466.8" cy="516.2" r="6.5" fill="url(#gb)"/><circle cx="470.7" cy="522.2" r="6.5" fill="url(#gb)"/><circle cx="475.4" cy="524.9" r="6.5" fill="url(#gb)"/><circle cx="479.5" cy="530.3" r="6.5" fill="url(#gb)"/><circle cx="483.6" cy="536.6" r="6.5" fill="url(#gb)"/><circle cx="487.5" cy="541" r="6.5" fill="url(#gb)"/><circle cx="492.3" cy="546.5" r="6.5" fill="url(#gb)"/><circle cx="497" cy="553.3" r="6.5" fill="url(#gb)"/><circle cx="500.9" cy="558.6" r="6.5" fill="url(#gb)"/><circle cx="505.9" cy="565.3" r="6.5" fill="url(#gb)"/><circle cx="509.9" cy="570.3" r="6.5" fill="url(#gb)"/><circle cx="513.7" cy="577.5" r="6.5" fill="url(#gb)"/><circle cx="518.9" cy="584.2" r="6.5" fill="url(#gb)"/><circle cx="521.8" cy="590.9" r="6.5" fill="url(#gb)"/><circle cx="527.3" cy="596.1" r="6.5" fill="url(#gb)"/><circle cx="531.9" cy="606" r="6.5" fill="url(#gb)"/><circle cx="535.1" cy="610.1" r="6.5" fill="url(#gb)"/></g>
<g clip-path="url(#cd)" fill="#fff" stroke="#ff00ff" stroke-width="1.25"><circle cx="541" cy="574" r="5.5"/><circle cx="548.2" cy="557.2" r="5.5"/><circle cx="551.3" cy="557.4" r="5.5"/><circle cx="555.4" cy="557.2" r="5.5"/><circle cx="560.4" cy="557" r="5.5"/><circle cx="564.3" cy="557.4" r="5.5"/><circle cx="569.1" cy="557.2" r="5.5"/><circle cx="574.3" cy="558" r="5.5"/><circle cx="577" cy="558.9" r="5.5"/><circle cx="581.3" cy="557.8" r="5.5"/><circle cx="585.9" cy="557.8" r="5.5"/><circle cx="590.2" cy="558.6" r="5.5"/><circle cx="594.1" cy="558.5" r="5.5"/><circle cx="598.3" cy="558.2" r="5.5"/><circle cx="603" cy="557.2" r="5.5"/><circle cx="607.1" cy="557.1" r="5.5"/><circle cx="610.5" cy="556.9" r="5.5"/><circle cx="615.2" cy="555.1" r="5.5"/><circle cx="619.4" cy="554.9" r="5.5"/><circle cx="623.1" cy="553.4" r="5.5"/><circle cx="627.9" cy="553.1" r="5.5"/><circle cx="631.6" cy="552" r="5.5"/><circle cx="636.7" cy="552.3" r="5.5"/><circle cx="640.5" cy="550.9" r="5.5"/><circle cx="644.6" cy="551.1" r="5.5"/><circle cx="648.5" cy="550.3" r="5.5"/><circle cx="652.9" cy="549.3" r="5.5"/><circle cx="656.2" cy="547.1" r="5.5"/><circle cx="660.8" cy="547.4" r="5.5"/><circle cx="665.8" cy="546.8" r="5.5"/><circle cx="668.7" cy="545.7" r="5.5"/><circle cx="674.4" cy="543.1" r="5.5"/><circle cx="677.3" cy="542" r="5.5"/><circle cx="682.8" cy="540" r="5.5"/><circle cx="686.2" cy="538.4" r="5.5"/><circle cx="691.2" cy="538" r="5.5"/><circle cx="695.1" cy="535.5" r="5.5"/><circle cx="698.4" cy="534.8" r="5.5"/><circle cx="704" cy="534.1" r="5.5"/><circle cx="708.3" cy="532" r="5.5"/><circle cx="711.8" cy="531" r="5.5"/><circle cx="715.9" cy="529.9" r="5.5"/><circle cx="720.1" cy="528.7" r="5.5"/><circle cx="723.9" cy="526.7" r="5.5"/><circle cx="729.2" cy="526.2" r="5.5"/><circle cx="732.5" cy="525.8" r="5.5"/><circle cx="737" cy="522.8" r="5.5"/><circle cx="740.8" cy="523" r="5.5"/><circle cx="745.1" cy="521.3" r="5.5"/><circle cx="749" cy="519.6" r="5.5"/><circle cx="754.4" cy="520.1" r="5.5"/><circle cx="757.9" cy="518.3" r="5.5"/><circle cx="762.7" cy="516.1" r="5.5"/><circle cx="766.4" cy="515.8" r="5.5"/><circle cx="770.3" cy="515.1" r="5.5"/><circle cx="774.6" cy="513.6" r="5.5"/><circle cx="778.7" cy="513.1" r="5.5"/><circle cx="783.2" cy="511.7" r="5.5"/><circle cx="787.2" cy="511.1" r="5.5"/><circle cx="791.4" cy="510.6" r="5.5"/><circle cx="795.1" cy="508.4" r="5.5"/><circle cx="799.6" cy="508" r="5.5"/><circle cx="805" cy="506.7" r="5.5"/><circle cx="808.1" cy="506.1" r="5.5"/><circle cx="812.1" cy="504.4" r="5.5"/><circle cx="817" cy="503.9" r="5.5"/><circle cx="821.7" cy="503.4" r="5.5"/><circle cx="824.5" cy="503.4" r="5.5"/><circle cx="829.3" cy="502.9" r="5.5"/><circle cx="833.3" cy="500.7" r="5.5"/><circle cx="836.9" cy="500.3" r="5.5"/><circle cx="842.4" cy="500.5" r="5.5"/><circle cx="846.2" cy="498.5" r="5.5"/><circle cx="850.4" cy="499" r="5.5"/><circle cx="854.2" cy="499.1" r="5.5"/><circle cx="859" cy="499.7" r="5.5"/><circle cx="862.7" cy="499.2" r="5.5"/><circle cx="867.1" cy="498.5" r="5.5"/><circle cx="870.8" cy="498.4" r="5.5"/><circle cx="875" cy="498.5" r="5.5"/><circle cx="880.5" cy="499.6" r="5.5"/><circle cx="883.7" cy="498.3" r="5.5"/><circle cx="888.3" cy="498.2" r="5.5"/><circle cx="892.4" cy="498.2" r="5.5"/><circle cx="896.4" cy="497.6" r="5.5"/><circle cx="900.5" cy="497.1" r="5.5"/><circle cx="905.3" cy="496.2" r="5.5"/><circle cx="909" cy="496.5" r="5.5"/><circle cx="913.3" cy="495.6" r="5.5"/><circle cx="917.6" cy="495.7" r="5.5"/><circle cx="922.4" cy="494.4" r="5.5"/><circle cx="926.3" cy="492.9" r="5.5"/><circle cx="930.4" cy="492" r="5.5"/><circle cx="934.1" cy="489.8" r="5.5"/><circle cx="937.9" cy="488.7" r="5.5"/><circle cx="943.3" cy="486.1" r="5.5"/><circle cx="947.5" cy="484.4" r="5.5"/><circle cx="951.1" cy="481.8" r="5.5"/></g>
<g clip-path="url(#cd)"><circle cx="541" cy="506" r="6.7" fill="url(#gm)"/><circle cx="547.8" cy="452.2" r="6.7" fill="url(#gm)"/><circle cx="551.9" cy="452.6" r="6.7" fill="url(#gm)"/><circle cx="556.1" cy="452.9" r="6.7" fill="url(#gm)"/><circle cx="561.1" cy="453.7" r="6.7" fill="url(#gm)"/><circle cx="564" cy="452.8" r="6.7" fill="url(#gm)"/><circle cx="568.8" cy="454.3" r="6.7" fill="url(#gm)"/><circle cx="573" cy="454.1" r="6.7" fill="url(#gm)"/><circle cx="577.5" cy="455.5" r="6.7" fill="url(#gm)"/><circle cx="581.6" cy="455.8" r="6.7" fill="url(#gm)"/><circle cx="585.2" cy="456.4" r="6.7" fill="url(#gm)"/><circle cx="591" cy="456.3" r="6.7" fill="url(#gm)"/><circle cx="594.3" cy="456" r="6.7" fill="url(#gm)"/><circle cx="597.7" cy="456.8" r="6.7" fill="url(#gm)"/><circle cx="602.2" cy="457.3" r="6.7" fill="url(#gm)"/><circle cx="606.8" cy="456.2" r="6.7" fill="url(#gm)"/><circle cx="611.3" cy="457.2" r="6.7" fill="url(#gm)"/><circle cx="614.5" cy="457" r="6.7" fill="url(#gm)"/><circle cx="619.8" cy="457.8" r="6.7" fill="url(#gm)"/><circle cx="622.9" cy="456.2" r="6.7" fill="url(#gm)"/><circle cx="627.4" cy="456.1" r="6.7" fill="url(#gm)"/><circle cx="632.4" cy="456" r="6.7" fill="url(#gm)"/><circle cx="637.1" cy="455.4" r="6.7" fill="url(#gm)"/><circle cx="640.4" cy="453.8" r="6.7" fill="url(#gm)"/><circle cx="644.4" cy="454.4" r="6.7" fill="url(#gm)"/><circle cx="649.4" cy="453.4" r="6.7" fill="url(#gm)"/><circle cx="652.5" cy="452.4" r="6.7" fill="url(#gm)"/><circle cx="657.3" cy="451.5" r="6.7" fill="url(#gm)"/><circle cx="661.5" cy="450.8" r="6.7" fill="url(#gm)"/><circle cx="666.1" cy="448.5" r="6.7" fill="url(#gm)"/><circle cx="670" cy="449.7" r="6.7" fill="url(#gm)"/><circle cx="673.9" cy="447.4" r="6.7" fill="url(#gm)"/><circle cx="678.5" cy="445.9" r="6.7" fill="url(#gm)"/><circle cx="681.8" cy="446.5" r="6.7" fill="url(#gm)"/><circle cx="687" cy="446.7" r="6.7" fill="url(#gm)"/><circle cx="690.5" cy="444.8" r="6.7" fill="url(#gm)"/><circle cx="694.5" cy="445.1" r="6.7" fill="url(#gm)"/><circle cx="699" cy="444.1" r="6.7" fill="url(#gm)"/><circle cx="703.4" cy="441.5" r="6.7" fill="url(#gm)"/><circle cx="708" cy="439.4" r="6.7" fill="url(#gm)"/><circle cx="711.7" cy="439" r="6.7" fill="url(#gm)"/><circle cx="716.4" cy="439.3" r="6.7" fill="url(#gm)"/><circle cx="720.7" cy="437.1" r="6.7" fill="url(#gm)"/><circle cx="724.3" cy="435.8" r="6.7" fill="url(#gm)"/><circle cx="728.1" cy="434.9" r="6.7" fill="url(#gm)"/><circle cx="733.3" cy="434.8" r="6.7" fill="url(#gm)"/><circle cx="737.1" cy="433.8" r="6.7" fill="url(#gm)"/><circle cx="740.1" cy="433.3" r="6.7" fill="url(#gm)"/><circle cx="744.9" cy="432.1" r="6.7" fill="url(#gm)"/><circle cx="749.7" cy="429.8" r="6.7" fill="url(#gm)"/><circle cx="753.1" cy="429.2" r="6.7" fill="url(#gm)"/><circle cx="757.7" cy="427.7" r="6.7" fill="url(#gm)"/><circle cx="761.3" cy="427.6" r="6.7" fill="url(#gm)"/><circle cx="766.6" cy="426" r="6.7" fill="url(#gm)"/><circle cx="770.7" cy="425" r="6.7" fill="url(#gm)"/><circle cx="774.9" cy="425.8" r="6.7" fill="url(#gm)"/><circle cx="779.7" cy="423.5" r="6.7" fill="url(#gm)"/><circle cx="783" cy="422.9" r="6.7" fill="url(#gm)"/><circle cx="787.3" cy="423.3" r="6.7" fill="url(#gm)"/><circle cx="792.6" cy="421.5" r="6.7" fill="url(#gm)"/><circle cx="795.1" cy="420.1" r="6.7" fill="url(#gm)"/><circle cx="800.4" cy="419.3" r="6.7" fill="url(#gm)"/><circle cx="803.5" cy="418.1" r="6.7" fill="url(#gm)"/><circle cx="808.5" cy="418.7" r="6.7" fill="url(#gm)"/><circle cx="813.7" cy="417.5" r="6.7" fill="url(#gm)"/><circle cx="816.9" cy="418.5" r="6.7" fill="url(#gm)"/><circle cx="820.6" cy="416.9" r="6.7" fill="url(#gm)"/><circle cx="826.4" cy="416.5" r="6.7" fill="url(#gm)"/><circle cx="829.1" cy="416.1" r="6.7" fill="url(#gm)"/><circle cx="833.5" cy="416.4" r="6.7" fill="url(#gm)"/><circle cx="838" cy="415.9" r="6.7" fill="url(#gm)"/><circle cx="841.3" cy="416.2" r="6.7" fill="url(#gm)"/><circle cx="846.8" cy="414.8" r="6.7" fill="url(#gm)"/><circle cx="851.2" cy="415" r="6.7" fill="url(#gm)"/><circle cx="855" cy="415.7" r="6.7" fill="url(#gm)"/><circle cx="859" cy="414.2" r="6.7" fill="url(#gm)"/><circle cx="862.9" cy="414.6" r="6.7" fill="url(#gm)"/><circle cx="867.6" cy="415.1" r="6.7" fill="url(#gm)"/><circle cx="869.8" cy="414.4" r="6.7" fill="url(#gm)"/><circle cx="875.5" cy="413.5" r="6.7" fill="url(#gm)"/><circle cx="879.9" cy="412.6" r="6.7" fill="url(#gm)"/><circle cx="883" cy="415.3" r="6.7" fill="url(#gm)"/><circle cx="888.4" cy="414.3" r="6.7" fill="url(#gm)"/><circle cx="892.3" cy="415" r="6.7" fill="url(#gm)"/><circle cx="896.6" cy="414.3" r="6.7" fill="url(#gm)"/><circle cx="900.9" cy="415.9" r="6.7" fill="url(#gm)"/><circle cx="905.3" cy="415.4" r="6.7" fill="url(#gm)"/><circle cx="909.4" cy="415.3" r="6.7" fill="url(#gm)"/><circle cx="912.9" cy="414.9" r="6.7" fill="url(#gm)"/><circle cx="917.5" cy="415.8" r="6.7" fill="url(#gm)"/><circle cx="921.7" cy="415.4" r="6.7" fill="url(#gm)"/><circle cx="926" cy="415.6" r="6.7" fill="url(#gm)"/><circle cx="929.9" cy="414.8" r="6.7" fill="url(#gm)"/><circle cx="934.9" cy="415.6" r="6.7" fill="url(#gm)"/><circle cx="939.3" cy="416" r="6.7" fill="url(#gm)"/><circle cx="943.6" cy="415.2" r="6.7" fill="url(#gm)"/><circle cx="948" cy="416" r="6.7" fill="url(#gm)"/><circle cx="952" cy="416.4" r="6.7" fill="url(#gm)"/></g>
<rect x="608" y="137.3" width="198" height="153.2" fill="#fff"/>
<rect x="608" y="137.3" width="198" height="153.2" fill="none" stroke="#000" stroke-width="3.9"/>
<line x1="645.1" y1="290.5" x2="645.1" y2="287.9" stroke="#000" stroke-width="3.2" stroke-linecap="butt"/>
<line x1="685.4" y1="290.5" x2="685.4" y2="285.5" stroke="#000" stroke-width="3.2" stroke-linecap="butt"/>
<line x1="725.8" y1="290.5" x2="725.8" y2="287.9" stroke="#000" stroke-width="3.2" stroke-linecap="butt"/>
<line x1="766.1" y1="290.5" x2="766.1" y2="285.5" stroke="#000" stroke-width="3.2" stroke-linecap="butt"/>
<line x1="806" y1="161.9" x2="803.6" y2="161.9" stroke="#000" stroke-width="3.2" stroke-linecap="butt"/>
<line x1="806" y1="187.9" x2="800.8" y2="187.9" stroke="#000" stroke-width="3.2" stroke-linecap="butt"/>
<line x1="806" y1="213.9" x2="803.6" y2="213.9" stroke="#000" stroke-width="3.2" stroke-linecap="butt"/>
<line x1="806" y1="239.9" x2="800.8" y2="239.9" stroke="#000" stroke-width="3.2" stroke-linecap="butt"/>
<line x1="806" y1="265.9" x2="803.6" y2="265.9" stroke="#000" stroke-width="3.2" stroke-linecap="butt"/>
<g clip-path="url(#cib)" fill="#fff" stroke="#ff0000" stroke-width="0.9"><circle cx="606.5" cy="203.7" r="3.1"/><circle cx="609" cy="186.7" r="3.1"/><circle cx="612.1" cy="188.9" r="3.1"/><circle cx="614.8" cy="186.6" r="3.1"/><circle cx="617.9" cy="190.2" r="3.1"/><circle cx="620" cy="190.8" r="3.1"/><circle cx="623.2" cy="188.5" r="3.1"/><circle cx="626" cy="189.2" r="3.1"/><circle cx="629.4" cy="187.3" r="3.1"/><circle cx="632.4" cy="183.9" r="3.1"/><circle cx="634.6" cy="181.1" r="3.1"/><circle cx="637.9" cy="177.9" r="3.1"/><circle cx="641.2" cy="182.1" r="3.1"/><circle cx="644.1" cy="179.8" r="3.1"/><circle cx="646.3" cy="183.7" r="3.1"/><circle cx="649.8" cy="180.5" r="3.1"/><circle cx="652.6" cy="178.2" r="3.1"/><circle cx="655.2" cy="175.2" r="3.1"/><circle cx="659" cy="177.2" r="3.1"/><circle cx="660.8" cy="173.8" r="3.1"/><circle cx="664" cy="176.9" r="3.1"/><circle cx="667.2" cy="174.4" r="3.1"/><circle cx="670" cy="175.8" r="3.1"/><circle cx="672.7" cy="173.3" r="3.1"/><circle cx="676.2" cy="178.2" r="3.1"/><circle cx="679.1" cy="173.4" r="3.1"/><circle cx="681.8" cy="172.2" r="3.1"/><circle cx="684.7" cy="174" r="3.1"/><circle cx="687.3" cy="171.9" r="3.1"/><circle cx="689.8" cy="174.8" r="3.1"/><circle cx="693.9" cy="172.6" r="3.1"/><circle cx="695.7" cy="176.1" r="3.1"/><circle cx="699.7" cy="175" r="3.1"/><circle cx="701.8" cy="175.3" r="3.1"/><circle cx="704.8" cy="178.9" r="3.1"/><circle cx="707.5" cy="179.6" r="3.1"/><circle cx="710.8" cy="184.6" r="3.1"/><circle cx="713.2" cy="185.7" r="3.1"/><circle cx="716.9" cy="188.1" r="3.1"/><circle cx="719.4" cy="188.8" r="3.1"/><circle cx="722.2" cy="189.5" r="3.1"/><circle cx="724.8" cy="192" r="3.1"/><circle cx="728" cy="195.8" r="3.1"/><circle cx="730.8" cy="196.5" r="3.1"/><circle cx="734.4" cy="198.3" r="3.1"/><circle cx="736.9" cy="201" r="3.1"/><circle cx="739" cy="205.4" r="3.1"/><circle cx="742.9" cy="208.1" r="3.1"/><circle cx="744.5" cy="215.6" r="3.1"/><circle cx="748.7" cy="214.7" r="3.1"/><circle cx="750.4" cy="218.8" r="3.1"/><circle cx="754" cy="224" r="3.1"/><circle cx="757.2" cy="229.4" r="3.1"/><circle cx="759.8" cy="231.8" r="3.1"/><circle cx="762.3" cy="234.3" r="3.1"/><circle cx="766" cy="238" r="3.1"/><circle cx="767.9" cy="242.2" r="3.1"/><circle cx="770.9" cy="247.7" r="3.1"/><circle cx="774.8" cy="248.2" r="3.1"/><circle cx="776.9" cy="253" r="3.1"/><circle cx="780.2" cy="255.9" r="3.1"/><circle cx="783.3" cy="261.2" r="3.1"/><circle cx="785.9" cy="265.3" r="3.1"/><circle cx="788.9" cy="266.6" r="3.1"/><circle cx="791.7" cy="276.4" r="3.1"/><circle cx="794.7" cy="277.2" r="3.1"/><circle cx="797.9" cy="280.3" r="3.1"/><circle cx="800.7" cy="283.7" r="3.1"/><circle cx="803.4" cy="287.4" r="3.1"/></g>
<g clip-path="url(#cib)"><circle cx="609" cy="151.4" r="3.5" fill="url(#gr)"/><circle cx="611.3" cy="153.3" r="3.5" fill="url(#gr)"/><circle cx="614.3" cy="154.2" r="3.5" fill="url(#gr)"/><circle cx="616.6" cy="157" r="3.5" fill="url(#gr)"/><circle cx="619.3" cy="154.7" r="3.5" fill="url(#gr)"/><circle cx="622.2" cy="154.5" r="3.5" fill="url(#gr)"/><circle cx="624.6" cy="155.8" r="3.5" fill="url(#gr)"/><circle cx="627" cy="156.6" r="3.5" fill="url(#gr)"/><circle cx="629.5" cy="157.2" r="3.5" fill="url(#gr)"/><circle cx="632.9" cy="155.7" r="3.5" fill="url(#gr)"/><circle cx="635.3" cy="154.2" r="3.5" fill="url(#gr)"/><circle cx="637.1" cy="152.4" r="3.5" fill="url(#gr)"/><circle cx="639.9" cy="152.5" r="3.5" fill="url(#gr)"/><circle cx="643" cy="152.4" r="3.5" fill="url(#gr)"/><circle cx="645.2" cy="149" r="3.5" fill="url(#gr)"/><circle cx="648" cy="147.7" r="3.5" fill="url(#gr)"/><circle cx="650.9" cy="151.6" r="3.5" fill="url(#gr)"/><circle cx="653.2" cy="146.9" r="3.5" fill="url(#gr)"/><circle cx="655.8" cy="152.1" r="3.5" fill="url(#gr)"/><circle cx="658.3" cy="153.7" r="3.5" fill="url(#gr)"/><circle cx="661" cy="149.5" r="3.5" fill="url(#gr)"/><circle cx="663.7" cy="148.6" r="3.5" fill="url(#gr)"/><circle cx="666.7" cy="148.8" r="3.5" fill="url(#gr)"/><circle cx="669.1" cy="151.8" r="3.5" fill="url(#gr)"/><circle cx="671.3" cy="149.1" r="3.5" fill="url(#gr)"/><circle cx="674.3" cy="143.8" r="3.5" fill="url(#gr)"/><circle cx="676.6" cy="146.8" r="3.5" fill="url(#gr)"/><circle cx="678.7" cy="150.3" r="3.5" fill="url(#gr)"/><circle cx="681.8" cy="151" r="3.5" fill="url(#gr)"/><circle cx="684.7" cy="152" r="3.5" fill="url(#gr)"/><circle cx="686.8" cy="152.1" r="3.5" fill="url(#gr)"/><circle cx="689.9" cy="150.1" r="3.5" fill="url(#gr)"/><circle cx="692.1" cy="156.8" r="3.5" fill="url(#gr)"/><circle cx="694.8" cy="156.9" r="3.5" fill="url(#gr)"/><circle cx="697" cy="158.3" r="3.5" fill="url(#gr)"/><circle cx="700.6" cy="163.1" r="3.5" fill="url(#gr)"/><circle cx="702.7" cy="160.6" r="3.5" fill="url(#gr)"/><circle cx="705.5" cy="161.8" r="3.5" fill="url(#gr)"/><circle cx="707.7" cy="163.7" r="3.5" fill="url(#gr)"/><circle cx="709.9" cy="162.7" r="3.5" fill="url(#gr)"/><circle cx="713.4" cy="163.3" r="3.5" fill="url(#gr)"/><circle cx="715.4" cy="165.2" r="3.5" fill="url(#gr)"/><circle cx="718.7" cy="171.5" r="3.5" fill="url(#gr)"/><circle cx="720.7" cy="173.3" r="3.5" fill="url(#gr)"/><circle cx="723.9" cy="173" r="3.5" fill="url(#gr)"/><circle cx="725.8" cy="179.6" r="3.5" fill="url(#gr)"/><circle cx="728" cy="179.2" r="3.5" fill="url(#gr)"/><circle cx="731.4" cy="177.3" r="3.5" fill="url(#gr)"/><circle cx="733.8" cy="184.5" r="3.5" fill="url(#gr)"/><circle cx="736.4" cy="184.9" r="3.5" fill="url(#gr)"/><circle cx="739.3" cy="184.2" r="3.5" fill="url(#gr)"/><circle cx="741.3" cy="191.6" r="3.5" fill="url(#gr)"/><circle cx="743.8" cy="192" r="3.5" fill="url(#gr)"/><circle cx="746.4" cy="195" r="3.5" fill="url(#gr)"/><circle cx="748.9" cy="201.3" r="3.5" fill="url(#gr)"/><circle cx="751.4" cy="198.4" r="3.5" fill="url(#gr)"/><circle cx="754.2" cy="205.2" r="3.5" fill="url(#gr)"/><circle cx="756.9" cy="211.5" r="3.5" fill="url(#gr)"/><circle cx="759.7" cy="217" r="3.5" fill="url(#gr)"/><circle cx="762" cy="217.9" r="3.5" fill="url(#gr)"/><circle cx="765" cy="220.2" r="3.5" fill="url(#gr)"/><circle cx="767.8" cy="223.3" r="3.5" fill="url(#gr)"/><circle cx="770.1" cy="229.5" r="3.5" fill="url(#gr)"/><circle cx="772.9" cy="235.9" r="3.5" fill="url(#gr)"/><circle cx="775.1" cy="235.1" r="3.5" fill="url(#gr)"/><circle cx="778.1" cy="238.1" r="3.5" fill="url(#gr)"/><circle cx="780.7" cy="247.4" r="3.5" fill="url(#gr)"/><circle cx="783" cy="251.9" r="3.5" fill="url(#gr)"/><circle cx="785.3" cy="255.2" r="3.5" fill="url(#gr)"/><circle cx="788.3" cy="263.9" r="3.5" fill="url(#gr)"/><circle cx="791" cy="269.2" r="3.5" fill="url(#gr)"/><circle cx="794" cy="270.5" r="3.5" fill="url(#gr)"/><circle cx="796" cy="276.2" r="3.5" fill="url(#gr)"/><circle cx="799.3" cy="283.6" r="3.5" fill="url(#gr)"/><circle cx="800.6" cy="285.4" r="3.5" fill="url(#gr)"/><circle cx="803.9" cy="285.6" r="3.5" fill="url(#gr)"/></g>
<rect x="169" y="460.7" width="197.3" height="154.7" fill="#fff"/>
<rect x="169" y="460.7" width="197.3" height="154.7" fill="none" stroke="#000" stroke-width="3.9"/>
<line x1="191" y1="615.4" x2="191" y2="612.8" stroke="#000" stroke-width="3.2" stroke-linecap="butt"/>
<line x1="220" y1="615.4" x2="220" y2="609.8" stroke="#000" stroke-width="3.2" stroke-linecap="butt"/>
<line x1="249" y1="615.4" x2="249" y2="612.8" stroke="#000" stroke-width="3.2" stroke-linecap="butt"/>
<line x1="278" y1="615.4" x2="278" y2="609.8" stroke="#000" stroke-width="3.2" stroke-linecap="butt"/>
<line x1="307" y1="615.4" x2="307" y2="612.8" stroke="#000" stroke-width="3.2" stroke-linecap="butt"/>
<line x1="336" y1="615.4" x2="336" y2="609.8" stroke="#000" stroke-width="3.2" stroke-linecap="butt"/>
<line x1="366.3" y1="460" x2="363.9" y2="460" stroke="#000" stroke-width="3.2" stroke-linecap="butt"/>
<line x1="366.3" y1="491" x2="361.1" y2="491" stroke="#000" stroke-width="3.2" stroke-linecap="butt"/>
<line x1="366.3" y1="522" x2="363.9" y2="522" stroke="#000" stroke-width="3.2" stroke-linecap="butt"/>
<line x1="366.3" y1="553" x2="361.1" y2="553" stroke="#000" stroke-width="3.2" stroke-linecap="butt"/>
<line x1="366.3" y1="584" x2="363.9" y2="584" stroke="#000" stroke-width="3.2" stroke-linecap="butt"/>
<g clip-path="url(#cic)" fill="#fff" stroke="#0000ff" stroke-width="0.9"><circle cx="170.7" cy="519.1" r="3.4"/><circle cx="176.1" cy="521.9" r="3.4"/><circle cx="181.5" cy="522.3" r="3.4"/><circle cx="185.8" cy="527.7" r="3.4"/><circle cx="190" cy="514.4" r="3.4"/><circle cx="194.3" cy="512.7" r="3.4"/><circle cx="198.6" cy="507.5" r="3.4"/><circle cx="202.9" cy="508.4" r="3.4"/><circle cx="207.6" cy="502.6" r="3.4"/><circle cx="211.5" cy="510.5" r="3.4"/><circle cx="216.2" cy="504.7" r="3.4"/><circle cx="220.5" cy="511.8" r="3.4"/><circle cx="224.4" cy="517" r="3.4"/><circle cx="228.7" cy="506.9" r="3.4"/><circle cx="233" cy="506.9" r="3.4"/><circle cx="237.7" cy="505.4" r="3.4"/><circle cx="242" cy="509" r="3.4"/><circle cx="245.9" cy="511.2" r="3.4"/><circle cx="251.2" cy="513.3" r="3.4"/><circle cx="255.5" cy="514" r="3.4"/><circle cx="259.8" cy="515.5" r="3.4"/><circle cx="264.1" cy="514.4" r="3.4"/><circle cx="268.4" cy="519.8" r="3.4"/><circle cx="272.7" cy="520.8" r="3.4"/><circle cx="277" cy="527.3" r="3.4"/><circle cx="281.3" cy="526.2" r="3.4"/><circle cx="286.6" cy="530.5" r="3.4"/><circle cx="290.9" cy="529.4" r="3.4"/><circle cx="295.2" cy="530.5" r="3.4"/><circle cx="299.5" cy="534.8" r="3.4"/><circle cx="303.8" cy="533.3" r="3.4"/><circle cx="308.1" cy="535.4" r="3.4"/><circle cx="312.4" cy="535.4" r="3.4"/><circle cx="316.7" cy="539.1" r="3.4"/><circle cx="321" cy="541.9" r="3.4"/><circle cx="325.3" cy="546.6" r="3.4"/><circle cx="329.6" cy="550.4" r="3.4"/><circle cx="333.9" cy="556.2" r="3.4"/><circle cx="338.1" cy="561.6" r="3.4"/><circle cx="342.4" cy="565.9" r="3.4"/><circle cx="346.7" cy="574.1" r="3.4"/><circle cx="351" cy="577.1" r="3.4"/><circle cx="356" cy="585.2" r="3.4"/><circle cx="360.7" cy="593.4" r="3.4"/><circle cx="364.5" cy="598.1" r="3.4"/></g>
<g clip-path="url(#cic)"><circle cx="169.7" cy="498.3" r="3.8" fill="url(#gb)"/><circle cx="172.9" cy="494" r="3.8" fill="url(#gb)"/><circle cx="177.2" cy="496.1" r="3.8" fill="url(#gb)"/><circle cx="181.5" cy="499.4" r="3.8" fill="url(#gb)"/><circle cx="185.8" cy="497.2" r="3.8" fill="url(#gb)"/><circle cx="190" cy="490.4" r="3.8" fill="url(#gb)"/><circle cx="194.3" cy="481.8" r="3.8" fill="url(#gb)"/><circle cx="198.6" cy="481.1" r="3.8" fill="url(#gb)"/><circle cx="202.9" cy="477.9" r="3.8" fill="url(#gb)"/><circle cx="207.2" cy="474" r="3.8" fill="url(#gb)"/><circle cx="212.6" cy="472.5" r="3.8" fill="url(#gb)"/><circle cx="216.2" cy="475.3" r="3.8" fill="url(#gb)"/><circle cx="221.2" cy="482.2" r="3.8" fill="url(#gb)"/><circle cx="224.4" cy="481.8" r="3.8" fill="url(#gb)"/><circle cx="228.7" cy="479" r="3.8" fill="url(#gb)"/><circle cx="234" cy="484.3" r="3.8" fill="url(#gb)"/><circle cx="237.3" cy="484.8" r="3.8" fill="url(#gb)"/><circle cx="241.6" cy="486.9" r="3.8" fill="url(#gb)"/><circle cx="246.9" cy="489.7" r="3.8" fill="url(#gb)"/><circle cx="251.2" cy="495.1" r="3.8" fill="url(#gb)"/><circle cx="255.5" cy="496.1" r="3.8" fill="url(#gb)"/><circle cx="259.8" cy="499.8" r="3.8" fill="url(#gb)"/><circle cx="264.1" cy="501.5" r="3.8" fill="url(#gb)"/><circle cx="268.4" cy="506.9" r="3.8" fill="url(#gb)"/><circle cx="273.8" cy="509" r="3.8" fill="url(#gb)"/><circle cx="277" cy="514.4" r="3.8" fill="url(#gb)"/><circle cx="281.3" cy="513.3" r="3.8" fill="url(#gb)"/><circle cx="286.6" cy="516.5" r="3.8" fill="url(#gb)"/><circle cx="290.9" cy="514.4" r="3.8" fill="url(#gb)"/><circle cx="295.2" cy="515.5" r="3.8" fill="url(#gb)"/><circle cx="299.5" cy="519.1" r="3.8" fill="url(#gb)"/><circle cx="303.8" cy="518.7" r="3.8" fill="url(#gb)"/><circle cx="308.1" cy="524.7" r="3.8" fill="url(#gb)"/><circle cx="312.4" cy="523.4" r="3.8" fill="url(#gb)"/><circle cx="316.7" cy="530.5" r="3.8" fill="url(#gb)"/><circle cx="321" cy="535.4" r="3.8" fill="url(#gb)"/><circle cx="325.3" cy="547" r="3.8" fill="url(#gb)"/><circle cx="329.6" cy="542.7" r="3.8" fill="url(#gb)"/><circle cx="333.9" cy="546.6" r="3.8" fill="url(#gb)"/><circle cx="338.1" cy="550.9" r="3.8" fill="url(#gb)"/><circle cx="342.4" cy="559.5" r="3.8" fill="url(#gb)"/><circle cx="346.7" cy="567" r="3.8" fill="url(#gb)"/><circle cx="351.7" cy="568" r="3.8" fill="url(#gb)"/><circle cx="356" cy="580.9" r="3.8" fill="url(#gb)"/><circle cx="360.7" cy="589.1" r="3.8" fill="url(#gb)"/><circle cx="364.5" cy="604.1" r="3.8" fill="url(#gb)"/></g>
<text x="117.5" y="92.8" font-size="34.5" text-anchor="end" font-weight="normal" fill="#000" >1.54</text>
<text x="117.5" y="173.7" font-size="34.5" text-anchor="end" font-weight="normal" fill="#000" >1.53</text>
<text x="117.5" y="254.6" font-size="34.5" text-anchor="end" font-weight="normal" fill="#000" >1.52</text>
<text x="117.5" y="412.2" font-size="34.5" text-anchor="end" font-weight="normal" fill="#000" >3.96</text>
<text x="117.5" y="504.8" font-size="34.5" text-anchor="end" font-weight="normal" fill="#000" >3.92</text>
<text x="117.5" y="597.5" font-size="34.5" text-anchor="end" font-weight="normal" fill="#000" >3.88</text>
<text x="965.8" y="98.4" font-size="32" text-anchor="start" font-weight="normal" fill="#000" >2.76</text>
<text x="965.8" y="184.7" font-size="32" text-anchor="start" font-weight="normal" fill="#000" >2.72</text>
<text x="965.8" y="271" font-size="32" text-anchor="start" font-weight="normal" fill="#000" >2.68</text>
<text x="965.8" y="424.6" font-size="32" text-anchor="start" font-weight="normal" fill="#000" >2.30</text>
<text x="965.8" y="505.5" font-size="32" text-anchor="start" font-weight="normal" fill="#000" >2.28</text>
<text x="965.8" y="586.3" font-size="32" text-anchor="start" font-weight="normal" fill="#000" >2.26</text>
<text x="191.7" y="693.2" font-size="35" text-anchor="middle" font-weight="normal" fill="#000" >50</text>
<text x="606.8" y="693.2" font-size="35" text-anchor="middle" font-weight="normal" fill="#000" >50</text>
<text x="261.2" y="693.2" font-size="35" text-anchor="middle" font-weight="normal" fill="#000" >100</text>
<text x="676.3" y="693.2" font-size="35" text-anchor="middle" font-weight="normal" fill="#000" >100</text>
<text x="330.8" y="693.2" font-size="35" text-anchor="middle" font-weight="normal" fill="#000" >150</text>
<text x="745.9" y="693.2" font-size="35" text-anchor="middle" font-weight="normal" fill="#000" >150</text>
<text x="400.3" y="693.2" font-size="35" text-anchor="middle" font-weight="normal" fill="#000" >200</text>
<text x="815.4" y="693.2" font-size="35" text-anchor="middle" font-weight="normal" fill="#000" >200</text>
<text x="469.8" y="693.2" font-size="35" text-anchor="middle" font-weight="normal" fill="#000" >250</text>
<text x="884.9" y="693.2" font-size="35" text-anchor="middle" font-weight="normal" fill="#000" >250</text>
<text x="684.5" y="310.6" font-size="19.8" text-anchor="middle" font-weight="bold" fill="#000" >100</text>
<text x="765.2" y="310.6" font-size="19.8" text-anchor="middle" font-weight="bold" fill="#000" >200</text>
<text x="811" y="193.3" font-size="17.9" text-anchor="start" font-weight="bold" fill="#000" >2.76</text>
<text x="811" y="245" font-size="17.9" text-anchor="start" font-weight="bold" fill="#000" >2.74</text>
<text x="220" y="635.6" font-size="19.5" text-anchor="middle" font-weight="bold" fill="#000" >40</text>
<text x="278" y="635.6" font-size="19.5" text-anchor="middle" font-weight="bold" fill="#000" >80</text>
<text x="336" y="635.6" font-size="19.5" text-anchor="middle" font-weight="bold" fill="#000" >120</text>
<text x="372.3" y="496.6" font-size="17.6" text-anchor="start" font-weight="bold" fill="#000" >3.976</text>
<text x="372.3" y="559" font-size="17.6" text-anchor="start" font-weight="bold" fill="#000" >3.968</text>
<text x="453" y="47.3" font-size="31.3" text-anchor="start" font-weight="normal" fill="#000" >x = 0</text>
<text x="809.5" y="46.5" font-size="31.0" text-anchor="start" font-weight="normal" fill="#ff0000" >x = 0.05</text>
<text x="415" y="378.5" font-size="31.0" text-anchor="start" font-weight="normal" fill="#0000ff" >x = 0.10</text>
<text x="819.4" y="375.8" font-size="31.0" text-anchor="start" font-weight="normal" fill="#ff00ff" >x = 0.20</text>
<text x="144.3" y="298.9" font-size="33.5" text-anchor="start" font-weight="normal" fill="#000" >(a)</text>
<text x="556.8" y="292.3" font-size="34" text-anchor="start" font-weight="normal" fill="#000" >(b)</text>
<text x="408" y="625.9" font-size="33.5" text-anchor="start" font-weight="normal" fill="#000" >(c)</text>
<text x="566.4" y="634.5" font-size="33.5" text-anchor="start" font-weight="normal" fill="#000" >(d)</text>
<text x="534.6" y="736.8" font-size="40" text-anchor="middle" font-weight="normal" fill="#000" >Temperature (K)</text>
<text transform="translate(33.4,439.2) rotate(-90)" font-size="46.5" >M</text>
<text transform="translate(33.2,389.6) rotate(-90)" font-size="46" >(</text>
<g transform="translate(33.2,372) rotate(-90) scale(1.0000)"><path d="M2.6 9 L6.9 9 L6.9 -27 L2.6 -27 Z" fill="#000"/><ellipse cx="3.9" cy="10" rx="3.0" ry="2.1" fill="#000"/><path d="M4.7 -8 C4.7 0 8.5 1.3 12.5 1.3 C16.5 1.3 19.5 -1 20.7 -5" fill="none" stroke="#000" stroke-width="3"/><path d="M19 -3 L22.5 -3 L22.5 -27 L19 -27 Z" fill="#000"/><path d="M20.8 -2.5 C21 1 24 1.6 26 0 C27.8 -1.4 29.4 -3.4 30 -5.4" fill="none" stroke="#000" stroke-width="2.2"/></g>
<text transform="translate(45,341.8) rotate(-90)" font-size="29" >B</text>
<text transform="translate(33.2,321) rotate(-90)" font-size="45" >/f.u.)</text>
<rect x="317" y="761" width="408.2" height="323.2" fill="none" stroke="#000" stroke-width="3.4"/>
<line x1="317" y1="1069" x2="327.3" y2="1069" stroke="#000" stroke-width="3.3" stroke-linecap="butt"/>
<line x1="317" y1="1038.2" x2="321.8" y2="1038.2" stroke="#000" stroke-width="3.3" stroke-linecap="butt"/>
<line x1="317" y1="1007.3" x2="327.3" y2="1007.3" stroke="#000" stroke-width="3.3" stroke-linecap="butt"/>
<line x1="317" y1="976.5" x2="321.8" y2="976.5" stroke="#000" stroke-width="3.3" stroke-linecap="butt"/>
<line x1="317" y1="945.6" x2="327.3" y2="945.6" stroke="#000" stroke-width="3.3" stroke-linecap="butt"/>
<line x1="317" y1="914.8" x2="321.8" y2="914.8" stroke="#000" stroke-width="3.3" stroke-linecap="butt"/>
<line x1="317" y1="883.9" x2="327.3" y2="883.9" stroke="#000" stroke-width="3.3" stroke-linecap="butt"/>
<line x1="317" y1="853" x2="321.8" y2="853" stroke="#000" stroke-width="3.3" stroke-linecap="butt"/>
<line x1="317" y1="822.2" x2="327.3" y2="822.2" stroke="#000" stroke-width="3.3" stroke-linecap="butt"/>
<line x1="317" y1="791.3" x2="321.8" y2="791.3" stroke="#000" stroke-width="3.3" stroke-linecap="butt"/>
<line x1="357.5" y1="1084.2" x2="357.5" y2="1090.1" stroke="#000" stroke-width="3.3" stroke-linecap="butt"/>
<line x1="398.5" y1="1084.2" x2="398.5" y2="1087.4" stroke="#000" stroke-width="3.3" stroke-linecap="butt"/>
<line x1="439.5" y1="1084.2" x2="439.5" y2="1090.1" stroke="#000" stroke-width="3.3" stroke-linecap="butt"/>
<line x1="480.5" y1="1084.2" x2="480.5" y2="1087.4" stroke="#000" stroke-width="3.3" stroke-linecap="butt"/>
<line x1="521.5" y1="1084.2" x2="521.5" y2="1090.1" stroke="#000" stroke-width="3.3" stroke-linecap="butt"/>
<line x1="562.5" y1="1084.2" x2="562.5" y2="1087.4" stroke="#000" stroke-width="3.3" stroke-linecap="butt"/>
<line x1="603.5" y1="1084.2" x2="603.5" y2="1090.1" stroke="#000" stroke-width="3.3" stroke-linecap="butt"/>
<line x1="644.5" y1="1084.2" x2="644.5" y2="1087.4" stroke="#000" stroke-width="3.3" stroke-linecap="butt"/>
<line x1="685.5" y1="1084.2" x2="685.5" y2="1090.1" stroke="#000" stroke-width="3.3" stroke-linecap="butt"/>
<text x="304.5" y="1076.6" font-size="26.5" text-anchor="end" font-weight="normal" fill="#000" >0.000</text>
<text x="304.5" y="1014.9" font-size="26.5" text-anchor="end" font-weight="normal" fill="#000" >0.004</text>
<text x="304.5" y="953.2" font-size="26.5" text-anchor="end" font-weight="normal" fill="#000" >0.008</text>
<text x="304.5" y="891.5" font-size="26.5" text-anchor="end" font-weight="normal" fill="#000" >0.012</text>
<text x="304.5" y="829.8" font-size="26.5" text-anchor="end" font-weight="normal" fill="#000" >0.016</text>
<text x="357.5" y="1115" font-size="26.5" text-anchor="middle" font-weight="normal" fill="#000" >0.00</text>
<text x="439.5" y="1115" font-size="26.5" text-anchor="middle" font-weight="normal" fill="#000" >0.05</text>
<text x="521.5" y="1115" font-size="26.5" text-anchor="middle" font-weight="normal" fill="#000" >0.10</text>
<text x="603.5" y="1115" font-size="26.5" text-anchor="middle" font-weight="normal" fill="#000" >0.15</text>
<text x="685.5" y="1115" font-size="26.5" text-anchor="middle" font-weight="normal" fill="#000" >0.20</text>
<text x="353.4" y="806.5" font-size="31.5" text-anchor="start" font-weight="normal" fill="#000" >300 K</text>
<text x="633.5" y="1068.3" font-size="32.5" text-anchor="start" font-weight="normal" fill="#000" >(e)</text>
<text x="495.3" y="1152.7" font-size="36" text-anchor="middle" font-weight="normal" fill="#000" >X</text>
<text transform="translate(220,1063.3) rotate(-90)" font-size="38" >FC-ZFC (</text>
<g transform="translate(220,901.8) rotate(-90) scale(0.8444)"><path d="M2.6 9 L6.9 9 L6.9 -27 L2.6 -27 Z" fill="#000"/><ellipse cx="3.9" cy="10" rx="3.0" ry="2.1" fill="#000"/><path d="M4.7 -8 C4.7 0 8.5 1.3 12.5 1.3 C16.5 1.3 19.5 -1 20.7 -5" fill="none" stroke="#000" stroke-width="3"/><path d="M19 -3 L22.5 -3 L22.5 -27 L19 -27 Z" fill="#000"/><path d="M20.8 -2.5 C21 1 24 1.6 26 0 C27.8 -1.4 29.4 -3.4 30 -5.4" fill="none" stroke="#000" stroke-width="2.2"/></g>
<text transform="translate(230.2,876.8) rotate(-90)" font-size="26" >B</text>
<text transform="translate(220,859) rotate(-90)" font-size="38" >/f.u.)</text>
<line x1="366.3" y1="922" x2="374.9" y2="937" stroke="#000" stroke-width="3.6" stroke-linecap="round"/>
<line x1="391.7" y1="966.2" x2="400.3" y2="981.3" stroke="#000" stroke-width="3.6" stroke-linecap="round"/>
<line x1="417" y1="1010.5" x2="425.6" y2="1025.5" stroke="#000" stroke-width="3.6" stroke-linecap="round"/>
<line x1="456.6" y1="1049.1" x2="473.8" y2="1050.4" stroke="#000" stroke-width="3.6" stroke-linecap="round"/>
<line x1="530.7" y1="1038.5" x2="540" y2="1023.9" stroke="#000" stroke-width="3.6" stroke-linecap="round"/>
<line x1="557.9" y1="995.4" x2="567.2" y2="980.8" stroke="#000" stroke-width="3.6" stroke-linecap="round"/>
<line x1="585.2" y1="952.3" x2="594.4" y2="937.6" stroke="#000" stroke-width="3.6" stroke-linecap="round"/>
<line x1="612.4" y1="909.1" x2="621.6" y2="894.5" stroke="#000" stroke-width="3.6" stroke-linecap="round"/>
<line x1="639.6" y1="866" x2="648.9" y2="851.4" stroke="#000" stroke-width="3.6" stroke-linecap="round"/>
<line x1="666.8" y1="822.9" x2="676.1" y2="808.3" stroke="#000" stroke-width="3.6" stroke-linecap="round"/>
<circle cx="357.3" cy="906.2" r="9.95" fill="#fff" stroke="#000" stroke-width="5.4"/>
<circle cx="438.4" cy="1047.8" r="9.95" fill="#fff" stroke="#000" stroke-width="5.4"/>
<circle cx="521" cy="1053.9" r="9.95" fill="#fff" stroke="#000" stroke-width="5.4"/>
<circle cx="684.2" cy="795.4" r="9.95" fill="#fff" stroke="#000" stroke-width="5.4"/></svg></body></html>
